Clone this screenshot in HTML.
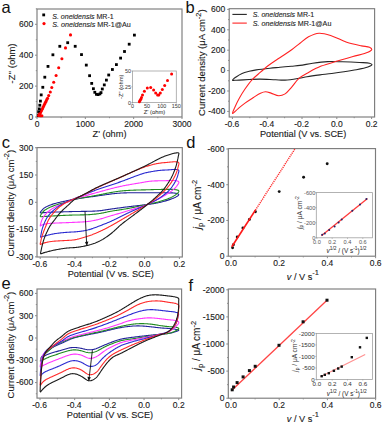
<!DOCTYPE html><html><head><meta charset="utf-8"><style>html,body{margin:0;padding:0;background:#fff;}svg{display:block}</style></head><body><svg width="383" height="424" viewBox="0 0 383 424"><rect width="383" height="424" fill="#fff"/><text x="1.5" y="12.6" font-family="Liberation Sans" font-size="16.5" text-anchor="start" fill="#111" stroke="#111" stroke-width="0" >a</text>
<text x="185.5" y="12.6" font-family="Liberation Sans" font-size="16.5" text-anchor="start" fill="#111" stroke="#111" stroke-width="0" >b</text>
<text x="1.8" y="147.6" font-family="Liberation Sans" font-size="16.5" text-anchor="start" fill="#111" stroke="#111" stroke-width="0" >c</text>
<text x="186.3" y="148.1" font-family="Liberation Sans" font-size="16.5" text-anchor="start" fill="#111" stroke="#111" stroke-width="0" >d</text>
<text x="1.6" y="289.3" font-family="Liberation Sans" font-size="16.5" text-anchor="start" fill="#111" stroke="#111" stroke-width="0" >e</text>
<text x="188.4" y="290.5" font-family="Liberation Sans" font-size="16.5" text-anchor="start" fill="#111" stroke="#111" stroke-width="0" >f</text>
<rect x="37" y="9" width="145" height="108" fill="none" stroke="#7c7c7c" stroke-width="1.15"/>
<line x1="35" y1="117" x2="37" y2="117" stroke="#8a8a8a" stroke-width="1.0"/>
<line x1="35" y1="86.1" x2="37" y2="86.1" stroke="#8a8a8a" stroke-width="1.0"/>
<line x1="35" y1="55.2" x2="37" y2="55.2" stroke="#8a8a8a" stroke-width="1.0"/>
<line x1="35" y1="24.3" x2="37" y2="24.3" stroke="#8a8a8a" stroke-width="1.0"/>
<line x1="35.8" y1="101.55" x2="37" y2="101.55" stroke="#8a8a8a" stroke-width="1.0"/>
<line x1="35.8" y1="70.65" x2="37" y2="70.65" stroke="#8a8a8a" stroke-width="1.0"/>
<line x1="35.8" y1="39.75" x2="37" y2="39.75" stroke="#8a8a8a" stroke-width="1.0"/>
<line x1="35.8" y1="8.85" x2="37" y2="8.85" stroke="#8a8a8a" stroke-width="1.0"/>
<line x1="37" y1="117" x2="37" y2="119" stroke="#8a8a8a" stroke-width="1.0"/>
<line x1="85.33" y1="117" x2="85.33" y2="119" stroke="#8a8a8a" stroke-width="1.0"/>
<line x1="133.66" y1="117" x2="133.66" y2="119" stroke="#8a8a8a" stroke-width="1.0"/>
<line x1="181.99" y1="117" x2="181.99" y2="119" stroke="#8a8a8a" stroke-width="1.0"/>
<line x1="61.16" y1="117" x2="61.16" y2="118.2" stroke="#8a8a8a" stroke-width="1.0"/>
<line x1="109.49" y1="117" x2="109.49" y2="118.2" stroke="#8a8a8a" stroke-width="1.0"/>
<line x1="157.82" y1="117" x2="157.82" y2="118.2" stroke="#8a8a8a" stroke-width="1.0"/>
<text x="33.2" y="119.8" font-family="Liberation Sans" font-size="8.5" text-anchor="end" fill="#1a1a1a" stroke="#1a1a1a" stroke-width="0.12" >0</text>
<text x="33.2" y="88.9" font-family="Liberation Sans" font-size="8.5" text-anchor="end" fill="#1a1a1a" stroke="#1a1a1a" stroke-width="0.12" >200</text>
<text x="33.2" y="58" font-family="Liberation Sans" font-size="8.5" text-anchor="end" fill="#1a1a1a" stroke="#1a1a1a" stroke-width="0.12" >400</text>
<text x="33.2" y="27.1" font-family="Liberation Sans" font-size="8.5" text-anchor="end" fill="#1a1a1a" stroke="#1a1a1a" stroke-width="0.12" >600</text>
<text x="37" y="126.6" font-family="Liberation Sans" font-size="8.5" text-anchor="middle" fill="#1a1a1a" stroke="#1a1a1a" stroke-width="0.12" >0</text>
<text x="85.33" y="126.6" font-family="Liberation Sans" font-size="8.5" text-anchor="middle" fill="#1a1a1a" stroke="#1a1a1a" stroke-width="0.12" >1000</text>
<text x="133.66" y="126.6" font-family="Liberation Sans" font-size="8.5" text-anchor="middle" fill="#1a1a1a" stroke="#1a1a1a" stroke-width="0.12" >2000</text>
<text x="181.99" y="126.6" font-family="Liberation Sans" font-size="8.5" text-anchor="middle" fill="#1a1a1a" stroke="#1a1a1a" stroke-width="0.12" >3000</text>
<text x="109.5" y="137.3" font-family="Liberation Sans" font-size="9.2" text-anchor="middle" fill="#1a1a1a" stroke="#1a1a1a" stroke-width="0.12" >Z' (ohm)</text>
<text transform="translate(14.9,63.5) rotate(-90)" font-family="Liberation Sans" font-size="9.5" text-anchor="middle" fill="#1a1a1a" stroke="#1a1a1a" stroke-width="0.1">-Z'' (ohm)</text>
<rect x="42.3" y="13.5" width="2.8" height="2.8" fill="#000"/>
<circle cx="44" cy="23.6" r="1.6" fill="#f00"/>
<text x="52.2" y="18.8" font-family="Liberation Sans" font-size="7.3" text-anchor="start" fill="#222" stroke="#222" stroke-width="0.1" textLength="61.5" lengthAdjust="spacingAndGlyphs"><tspan font-style="italic">S. oneidensis</tspan> MR-1</text>
<text x="52.2" y="27.2" font-family="Liberation Sans" font-size="7.3" text-anchor="start" fill="#222" stroke="#222" stroke-width="0.1" textLength="78.6" lengthAdjust="spacingAndGlyphs"><tspan font-style="italic">S. oneidensis</tspan> MR-1@Au</text>
<circle cx="70.5" cy="34.9" r="1.55" fill="#f00"/>
<circle cx="65.5" cy="47.9" r="1.55" fill="#f00"/>
<circle cx="61.9" cy="58.7" r="1.55" fill="#f00"/>
<circle cx="58.7" cy="67.8" r="1.55" fill="#f00"/>
<circle cx="56.1" cy="75.5" r="1.55" fill="#f00"/>
<circle cx="53.7" cy="82.2" r="1.55" fill="#f00"/>
<circle cx="51.8" cy="87.5" r="1.55" fill="#f00"/>
<circle cx="50.3" cy="92" r="1.55" fill="#f00"/>
<circle cx="48.7" cy="95.6" r="1.55" fill="#f00"/>
<circle cx="47.52" cy="98.18" r="1.55" fill="#f00"/>
<circle cx="46.85" cy="99.57" r="1.55" fill="#f00"/>
<circle cx="46.17" cy="100.95" r="1.55" fill="#f00"/>
<circle cx="45.49" cy="102.34" r="1.55" fill="#f00"/>
<circle cx="44.82" cy="103.72" r="1.55" fill="#f00"/>
<circle cx="44.14" cy="105.11" r="1.55" fill="#f00"/>
<circle cx="43.46" cy="106.49" r="1.55" fill="#f00"/>
<circle cx="42.78" cy="107.88" r="1.55" fill="#f00"/>
<circle cx="42.11" cy="109.26" r="1.55" fill="#f00"/>
<circle cx="41.43" cy="110.65" r="1.55" fill="#f00"/>
<circle cx="40.75" cy="112.03" r="1.55" fill="#f00"/>
<circle cx="40.08" cy="113.42" r="1.55" fill="#f00"/>
<circle cx="39.4" cy="114.8" r="1.55" fill="#f00"/>
<rect x="36.9" y="114.2" width="2.8" height="2.8" fill="#000"/>
<rect x="37.3" y="110.4" width="2.8" height="2.8" fill="#000"/>
<rect x="37.9" y="107.5" width="2.8" height="2.8" fill="#000"/>
<rect x="38.4" y="103.8" width="2.8" height="2.8" fill="#000"/>
<rect x="39" y="99.7" width="2.8" height="2.8" fill="#000"/>
<rect x="39.8" y="93.5" width="2.8" height="2.8" fill="#000"/>
<rect x="41.4" y="85.9" width="2.8" height="2.8" fill="#000"/>
<rect x="43.4" y="75.8" width="2.8" height="2.8" fill="#000"/>
<rect x="46.6" y="65" width="2.8" height="2.8" fill="#000"/>
<rect x="51.5" y="53.4" width="2.8" height="2.8" fill="#000"/>
<rect x="58.4" y="44.9" width="2.8" height="2.8" fill="#000"/>
<rect x="66.3" y="41.3" width="2.8" height="2.8" fill="#000"/>
<rect x="73.8" y="44.9" width="2.8" height="2.8" fill="#000"/>
<rect x="80.1" y="53.2" width="2.8" height="2.8" fill="#000"/>
<rect x="84.9" y="63.7" width="2.8" height="2.8" fill="#000"/>
<rect x="88.2" y="74.3" width="2.8" height="2.8" fill="#000"/>
<rect x="90.3" y="82" width="2.8" height="2.8" fill="#000"/>
<rect x="92" y="87.3" width="2.8" height="2.8" fill="#000"/>
<rect x="93.4" y="90.9" width="2.8" height="2.8" fill="#000"/>
<rect x="95" y="92.9" width="2.8" height="2.8" fill="#000"/>
<rect x="96.7" y="93.2" width="2.8" height="2.8" fill="#000"/>
<rect x="98.5" y="92.5" width="2.8" height="2.8" fill="#000"/>
<rect x="99.6" y="91.2" width="2.8" height="2.8" fill="#000"/>
<rect x="100.9" y="87.6" width="2.8" height="2.8" fill="#000"/>
<rect x="102.9" y="83.5" width="2.8" height="2.8" fill="#000"/>
<rect x="105" y="78.7" width="2.8" height="2.8" fill="#000"/>
<rect x="107.3" y="73.6" width="2.8" height="2.8" fill="#000"/>
<rect x="111" y="68.1" width="2.8" height="2.8" fill="#000"/>
<rect x="115" y="63.2" width="2.8" height="2.8" fill="#000"/>
<rect x="119.2" y="56.7" width="2.8" height="2.8" fill="#000"/>
<rect x="123.1" y="50.1" width="2.8" height="2.8" fill="#000"/>
<rect x="127.8" y="42.8" width="2.8" height="2.8" fill="#000"/>
<rect x="133" y="33.7" width="2.8" height="2.8" fill="#000"/>
<circle cx="38.6" cy="115.5" r="1.55" fill="#f00"/>
<circle cx="40.3" cy="115.7" r="1.55" fill="#f00"/>
<circle cx="41.9" cy="115.7" r="1.55" fill="#f00"/>
<circle cx="39.6" cy="113.8" r="1.55" fill="#f00"/>
<rect x="132.4" y="71.0" width="43.9" height="31.6" fill="#fff" stroke="#a0a0a0" stroke-width="0.8"/>
<line x1="131.4" y1="102.6" x2="132.4" y2="102.6" stroke="#8a8a8a" stroke-width="0.6"/>
<line x1="131.4" y1="86.8" x2="132.4" y2="86.8" stroke="#8a8a8a" stroke-width="0.6"/>
<line x1="131.4" y1="71" x2="132.4" y2="71" stroke="#8a8a8a" stroke-width="0.6"/>
<line x1="132.4" y1="102.6" x2="132.4" y2="103.6" stroke="#8a8a8a" stroke-width="0.6"/>
<line x1="147.03" y1="102.6" x2="147.03" y2="103.6" stroke="#8a8a8a" stroke-width="0.6"/>
<line x1="161.67" y1="102.6" x2="161.67" y2="103.6" stroke="#8a8a8a" stroke-width="0.6"/>
<line x1="176.3" y1="102.6" x2="176.3" y2="103.6" stroke="#8a8a8a" stroke-width="0.6"/>
<text x="130.9" y="104.5" font-family="Liberation Sans" font-size="5.4" text-anchor="end" fill="#444" stroke="#444" stroke-width="0.05" >0</text>
<text x="130.9" y="88.7" font-family="Liberation Sans" font-size="5.4" text-anchor="end" fill="#444" stroke="#444" stroke-width="0.05" >25</text>
<text x="130.9" y="72.9" font-family="Liberation Sans" font-size="5.4" text-anchor="end" fill="#444" stroke="#444" stroke-width="0.05" >50</text>
<text x="132.4" y="108.3" font-family="Liberation Sans" font-size="5.4" text-anchor="middle" fill="#444" stroke="#444" stroke-width="0.05" >0</text>
<text x="147.03" y="108.3" font-family="Liberation Sans" font-size="5.4" text-anchor="middle" fill="#444" stroke="#444" stroke-width="0.05" >50</text>
<text x="161.67" y="108.3" font-family="Liberation Sans" font-size="5.4" text-anchor="middle" fill="#444" stroke="#444" stroke-width="0.05" >100</text>
<text x="176.3" y="108.3" font-family="Liberation Sans" font-size="5.4" text-anchor="middle" fill="#444" stroke="#444" stroke-width="0.05" >150</text>
<text x="154.5" y="114.4" font-family="Liberation Sans" font-size="5.8" text-anchor="middle" fill="#333" stroke="#333" stroke-width="0.05" >Z' (ohm)</text>
<text transform="translate(123,86.8) rotate(-90)" font-family="Liberation Sans" font-size="5.8" text-anchor="middle" fill="#333" stroke="#333" stroke-width="0.05">-Z'' (ohm)</text>
<circle cx="139.4" cy="101.8" r="1.5" fill="#f00"/>
<circle cx="140" cy="100.4" r="1.5" fill="#f00"/>
<circle cx="140.7" cy="99.3" r="1.5" fill="#f00"/>
<circle cx="141.5" cy="97.4" r="1.5" fill="#f00"/>
<circle cx="142.5" cy="94.9" r="1.5" fill="#f00"/>
<circle cx="144.4" cy="91.2" r="1.5" fill="#f00"/>
<circle cx="147.3" cy="88" r="1.5" fill="#f00"/>
<circle cx="150.7" cy="87.4" r="1.5" fill="#f00"/>
<circle cx="153.6" cy="89.9" r="1.5" fill="#f00"/>
<circle cx="155.7" cy="93.1" r="1.5" fill="#f00"/>
<circle cx="157.6" cy="94.9" r="1.5" fill="#f00"/>
<circle cx="158.8" cy="94.9" r="1.5" fill="#f00"/>
<circle cx="160.3" cy="93.1" r="1.5" fill="#f00"/>
<circle cx="162.3" cy="89.6" r="1.5" fill="#f00"/>
<circle cx="164.7" cy="85.5" r="1.5" fill="#f00"/>
<circle cx="167.5" cy="80.6" r="1.5" fill="#f00"/>
<circle cx="171.6" cy="73.9" r="1.5" fill="#f00"/>
<rect x="229.2" y="8.7" width="145.4" height="108.3" fill="none" stroke="#7c7c7c" stroke-width="1.15"/>
<line x1="227.2" y1="9.4" x2="229.2" y2="9.4" stroke="#8a8a8a" stroke-width="1.0"/>
<line x1="227.2" y1="29.8" x2="229.2" y2="29.8" stroke="#8a8a8a" stroke-width="1.0"/>
<line x1="227.2" y1="50.2" x2="229.2" y2="50.2" stroke="#8a8a8a" stroke-width="1.0"/>
<line x1="227.2" y1="70.6" x2="229.2" y2="70.6" stroke="#8a8a8a" stroke-width="1.0"/>
<line x1="227.2" y1="91" x2="229.2" y2="91" stroke="#8a8a8a" stroke-width="1.0"/>
<line x1="227.2" y1="111.4" x2="229.2" y2="111.4" stroke="#8a8a8a" stroke-width="1.0"/>
<line x1="228" y1="19.6" x2="229.2" y2="19.6" stroke="#8a8a8a" stroke-width="1.0"/>
<line x1="228" y1="40" x2="229.2" y2="40" stroke="#8a8a8a" stroke-width="1.0"/>
<line x1="228" y1="60.4" x2="229.2" y2="60.4" stroke="#8a8a8a" stroke-width="1.0"/>
<line x1="228" y1="80.8" x2="229.2" y2="80.8" stroke="#8a8a8a" stroke-width="1.0"/>
<line x1="228" y1="101.2" x2="229.2" y2="101.2" stroke="#8a8a8a" stroke-width="1.0"/>
<line x1="232.4" y1="117" x2="232.4" y2="119" stroke="#8a8a8a" stroke-width="1.0"/>
<line x1="267.2" y1="117" x2="267.2" y2="119" stroke="#8a8a8a" stroke-width="1.0"/>
<line x1="302" y1="117" x2="302" y2="119" stroke="#8a8a8a" stroke-width="1.0"/>
<line x1="336.8" y1="117" x2="336.8" y2="119" stroke="#8a8a8a" stroke-width="1.0"/>
<line x1="371.6" y1="117" x2="371.6" y2="119" stroke="#8a8a8a" stroke-width="1.0"/>
<line x1="249.8" y1="117" x2="249.8" y2="118.2" stroke="#8a8a8a" stroke-width="1.0"/>
<line x1="284.6" y1="117" x2="284.6" y2="118.2" stroke="#8a8a8a" stroke-width="1.0"/>
<line x1="319.4" y1="117" x2="319.4" y2="118.2" stroke="#8a8a8a" stroke-width="1.0"/>
<line x1="354.2" y1="117" x2="354.2" y2="118.2" stroke="#8a8a8a" stroke-width="1.0"/>
<text x="225.3" y="12.2" font-family="Liberation Sans" font-size="8.5" text-anchor="end" fill="#1a1a1a" stroke="#1a1a1a" stroke-width="0.12" >600</text>
<text x="225.3" y="32.6" font-family="Liberation Sans" font-size="8.5" text-anchor="end" fill="#1a1a1a" stroke="#1a1a1a" stroke-width="0.12" >400</text>
<text x="225.3" y="53" font-family="Liberation Sans" font-size="8.5" text-anchor="end" fill="#1a1a1a" stroke="#1a1a1a" stroke-width="0.12" >200</text>
<text x="225.3" y="73.4" font-family="Liberation Sans" font-size="8.5" text-anchor="end" fill="#1a1a1a" stroke="#1a1a1a" stroke-width="0.12" >0</text>
<text x="225.3" y="93.8" font-family="Liberation Sans" font-size="8.5" text-anchor="end" fill="#1a1a1a" stroke="#1a1a1a" stroke-width="0.12" >-200</text>
<text x="225.3" y="114.2" font-family="Liberation Sans" font-size="8.5" text-anchor="end" fill="#1a1a1a" stroke="#1a1a1a" stroke-width="0.12" >-400</text>
<text x="232" y="126.6" font-family="Liberation Sans" font-size="8.5" text-anchor="middle" fill="#1a1a1a" stroke="#1a1a1a" stroke-width="0.12" >-0.6</text>
<text x="266.8" y="126.6" font-family="Liberation Sans" font-size="8.5" text-anchor="middle" fill="#1a1a1a" stroke="#1a1a1a" stroke-width="0.12" >-0.4</text>
<text x="301.6" y="126.6" font-family="Liberation Sans" font-size="8.5" text-anchor="middle" fill="#1a1a1a" stroke="#1a1a1a" stroke-width="0.12" >-0.2</text>
<text x="336.8" y="126.6" font-family="Liberation Sans" font-size="8.5" text-anchor="middle" fill="#1a1a1a" stroke="#1a1a1a" stroke-width="0.12" >0.0</text>
<text x="371.6" y="126.6" font-family="Liberation Sans" font-size="8.5" text-anchor="middle" fill="#1a1a1a" stroke="#1a1a1a" stroke-width="0.12" >0.2</text>
<text x="303.1" y="136.9" font-family="Liberation Sans" font-size="9.2" text-anchor="middle" fill="#1a1a1a" stroke="#1a1a1a" stroke-width="0.12" >Potential (V vs. SCE)</text>
<text transform="translate(205.3,62.7) rotate(-90)" font-family="Liberation Sans" font-size="9.5" text-anchor="middle" fill="#1a1a1a" stroke="#1a1a1a" stroke-width="0.1">Current density (μA cm<tspan dy="-4.4" font-size="7.4">-2</tspan><tspan dy="4.4">)</tspan></text>
<line x1="232.4" y1="14.4" x2="246.8" y2="14.4" stroke="#222" stroke-width="1.1"/>
<line x1="232.4" y1="23.1" x2="246.8" y2="23.1" stroke="#f22" stroke-width="1.1"/>
<text x="252.8" y="17.4" font-family="Liberation Sans" font-size="7.3" text-anchor="start" fill="#222" stroke="#222" stroke-width="0.1" textLength="61.5" lengthAdjust="spacingAndGlyphs"><tspan font-style="italic">S. oneidensis</tspan> MR-1</text>
<text x="252.8" y="26.1" font-family="Liberation Sans" font-size="7.3" text-anchor="start" fill="#222" stroke="#222" stroke-width="0.1" textLength="78.6" lengthAdjust="spacingAndGlyphs"><tspan font-style="italic">S. oneidensis</tspan> MR-1@Au</text>
<path d="M232.5,80.2C232.3,79.66 235,77.79 236.5,76.7C238.16,75.5 240.06,74.29 242.1,73.4C244.27,72.46 246.82,71.89 249.2,71.3C251.55,70.72 253.54,70.34 256.3,69.9C260.11,69.29 265.79,68.65 270,68.2C273.59,67.82 276.57,67.62 280,67.3C283.65,66.96 287.78,66.53 291.3,66.2C294.39,65.91 296.84,65.82 300,65.4C303.84,64.89 308.29,63.82 312.7,63.2C317.46,62.53 322.63,61.83 327.6,61.6C332.53,61.37 337.3,61.66 342.4,61.8C347.87,61.95 354.47,62.23 359.4,62.5C363.2,62.71 367.31,62.55 369.5,63.2C370.67,63.55 371.99,64.06 372,64.6C372.01,65.3 369.78,66.35 367.9,67.1C364.56,68.43 358.42,69.31 353,70.3C346.57,71.47 337.84,72.69 331.8,73.5C327.3,74.11 324.03,74.38 320,74.9C315.77,75.44 310.78,76.08 307,76.7C304.06,77.19 302.19,77.71 299.2,78.2C295.2,78.85 289.33,79.88 285.1,80.1C281.66,80.28 279.23,79.94 275.7,79.8C271.13,79.63 264.75,79.12 260,79.1C256.06,79.09 252.94,79.33 249.2,79.5C245.14,79.69 239.54,80.12 236.5,80.2C234.79,80.25 232.68,80.67 232.5,80.2Z" fill="none" stroke="#262626" stroke-width="1.1"/>
<path d="M232.5,113.5C232.02,113.16 234.07,109.07 235.1,106.7C236.28,104 237.72,101.05 239.3,98.2C240.99,95.15 242.92,92.02 245,89C247.15,85.88 249.41,82.61 252,79.8C254.58,77.01 257.74,74.61 260.5,72.2C263.06,69.96 265.41,67.8 268,65.8C270.58,63.81 273.32,62.01 276,60.2C278.65,58.41 281.34,56.78 284,55C286.68,53.21 289.36,51.44 292,49.5C294.7,47.51 297.28,45.29 300,43.2C302.78,41.06 305.36,38.46 308.5,36.8C311.72,35.1 315.38,33.42 319.1,33.2C323.11,32.96 327.47,34.52 331.8,35.9C336.64,37.44 341.67,40.62 346.7,42.3C351.57,43.93 357.31,45.02 361.5,45.9C364.56,46.54 367.72,46.42 369.5,47.3C370.61,47.84 371.84,48.67 371.8,49.4C371.75,50.32 369.73,51.4 367.9,52.3C364.63,53.91 357.96,55.08 353,56.5C348.06,57.92 343.3,59.27 338.2,60.8C332.72,62.45 326.38,64.02 321.2,66.1C316.58,67.95 312.36,70.25 308.5,72.4C305.11,74.29 302,75.77 299.2,78.2C296.23,80.77 293.83,84.82 291.3,87.6C289.16,89.96 287.36,92.53 285.1,93.9C283.15,95.08 281,95.84 278.8,95.8C276.33,95.75 273.39,93.79 271,93.1C269.02,92.53 267.29,91.76 265.5,91.8C263.79,91.83 262.25,92.44 260.5,93.2C258.3,94.16 255.93,95.95 253.5,97.5C250.79,99.22 247.66,101.16 245,103.1C242.48,104.93 240.09,106.97 237.9,108.8C235.96,110.42 232.98,113.83 232.5,113.5Z" fill="none" stroke="#f22" stroke-width="1.1"/>
<rect x="37" y="147.6" width="145.3" height="109.4" fill="none" stroke="#7c7c7c" stroke-width="1.15"/>
<line x1="35" y1="147.76" x2="37" y2="147.76" stroke="#8a8a8a" stroke-width="1.0"/>
<line x1="35" y1="175.03" x2="37" y2="175.03" stroke="#8a8a8a" stroke-width="1.0"/>
<line x1="35" y1="202.3" x2="37" y2="202.3" stroke="#8a8a8a" stroke-width="1.0"/>
<line x1="35" y1="229.57" x2="37" y2="229.57" stroke="#8a8a8a" stroke-width="1.0"/>
<line x1="35" y1="256.84" x2="37" y2="256.84" stroke="#8a8a8a" stroke-width="1.0"/>
<line x1="35.8" y1="161.4" x2="37" y2="161.4" stroke="#8a8a8a" stroke-width="1.0"/>
<line x1="35.8" y1="188.67" x2="37" y2="188.67" stroke="#8a8a8a" stroke-width="1.0"/>
<line x1="35.8" y1="215.94" x2="37" y2="215.94" stroke="#8a8a8a" stroke-width="1.0"/>
<line x1="35.8" y1="243.21" x2="37" y2="243.21" stroke="#8a8a8a" stroke-width="1.0"/>
<line x1="40.2" y1="257" x2="40.2" y2="259" stroke="#8a8a8a" stroke-width="1.0"/>
<line x1="75" y1="257" x2="75" y2="259" stroke="#8a8a8a" stroke-width="1.0"/>
<line x1="109.8" y1="257" x2="109.8" y2="259" stroke="#8a8a8a" stroke-width="1.0"/>
<line x1="144.6" y1="257" x2="144.6" y2="259" stroke="#8a8a8a" stroke-width="1.0"/>
<line x1="179.4" y1="257" x2="179.4" y2="259" stroke="#8a8a8a" stroke-width="1.0"/>
<line x1="57.6" y1="257" x2="57.6" y2="258.2" stroke="#8a8a8a" stroke-width="1.0"/>
<line x1="92.4" y1="257" x2="92.4" y2="258.2" stroke="#8a8a8a" stroke-width="1.0"/>
<line x1="127.2" y1="257" x2="127.2" y2="258.2" stroke="#8a8a8a" stroke-width="1.0"/>
<line x1="162" y1="257" x2="162" y2="258.2" stroke="#8a8a8a" stroke-width="1.0"/>
<text x="33.2" y="150.66" font-family="Liberation Sans" font-size="8.5" text-anchor="end" fill="#1a1a1a" stroke="#1a1a1a" stroke-width="0.12" >300</text>
<text x="33.2" y="177.93" font-family="Liberation Sans" font-size="8.5" text-anchor="end" fill="#1a1a1a" stroke="#1a1a1a" stroke-width="0.12" >150</text>
<text x="33.2" y="205.2" font-family="Liberation Sans" font-size="8.5" text-anchor="end" fill="#1a1a1a" stroke="#1a1a1a" stroke-width="0.12" >0</text>
<text x="33.2" y="232.47" font-family="Liberation Sans" font-size="8.5" text-anchor="end" fill="#1a1a1a" stroke="#1a1a1a" stroke-width="0.12" >-150</text>
<text x="33.2" y="259.74" font-family="Liberation Sans" font-size="8.5" text-anchor="end" fill="#1a1a1a" stroke="#1a1a1a" stroke-width="0.12" >-300</text>
<text x="39.8" y="266.6" font-family="Liberation Sans" font-size="8.5" text-anchor="middle" fill="#1a1a1a" stroke="#1a1a1a" stroke-width="0.12" >-0.6</text>
<text x="74.6" y="266.6" font-family="Liberation Sans" font-size="8.5" text-anchor="middle" fill="#1a1a1a" stroke="#1a1a1a" stroke-width="0.12" >-0.4</text>
<text x="109.4" y="266.6" font-family="Liberation Sans" font-size="8.5" text-anchor="middle" fill="#1a1a1a" stroke="#1a1a1a" stroke-width="0.12" >-0.2</text>
<text x="144.6" y="266.6" font-family="Liberation Sans" font-size="8.5" text-anchor="middle" fill="#1a1a1a" stroke="#1a1a1a" stroke-width="0.12" >0.0</text>
<text x="179.4" y="266.6" font-family="Liberation Sans" font-size="8.5" text-anchor="middle" fill="#1a1a1a" stroke="#1a1a1a" stroke-width="0.12" >0.2</text>
<text x="110.8" y="276.9" font-family="Liberation Sans" font-size="9.2" text-anchor="middle" fill="#1a1a1a" stroke="#1a1a1a" stroke-width="0.12" >Potential (V vs. SCE)</text>
<text transform="translate(13.6,203.2) rotate(-90)" font-family="Liberation Sans" font-size="9.5" text-anchor="middle" fill="#1a1a1a" stroke="#1a1a1a" stroke-width="0.1">Current density (μA cm<tspan dy="-4.4" font-size="7.4">-2</tspan><tspan dy="4.4">)</tspan></text>
<path d="M40.3,212.8 40.33,212.37 40.63,211.81 41.2,211.03 42.03,210.16 42.66,209.41 43.24,208.82 43.83,208.32 44.47,207.86 45.16,207.42 45.89,207.01 46.65,206.62 47.43,206.24 48.15,205.92 48.9,205.59 49.66,205.28 50.45,204.98 51.25,204.68 52.08,204.38 52.92,204.11 53.76,203.84 54.5,203.62 55.25,203.41 56.02,203.2 56.8,203 57.59,202.8 58.38,202.61 59.17,202.43 59.95,202.25 60.72,202.08 61.48,201.91 62.32,201.72 63.17,201.53 64.01,201.35 64.84,201.17 65.66,200.99 66.46,200.82 67.26,200.66 68.05,200.49 68.82,200.33 69.55,200.18 70.26,200.03 71,199.89 71.8,199.73 72.68,199.56 73.64,199.39 74.42,199.25 74.98,199.15 75.56,199.06 76.15,198.96 76.77,198.86 77.42,198.76 78.12,198.65 78.86,198.54 79.63,198.42 80.43,198.3 81.26,198.18 82.11,198.06 82.97,197.94 83.83,197.81 84.71,197.69 85.6,197.56 86.48,197.44 87.38,197.31 88.28,197.19 89.17,197.07 90.08,196.94 90.98,196.82 91.87,196.7 92.76,196.58 93.64,196.46 94.49,196.34 95.28,196.23 96.03,196.12 96.77,196.02 97.51,195.91 98.27,195.81 99.03,195.7 99.79,195.58 100.56,195.47 101.34,195.36 102.12,195.24 102.91,195.13 103.7,195.01 104.49,194.9 105.29,194.78 106.08,194.67 106.88,194.56 107.68,194.45 108.49,194.34 109.3,194.23 110.11,194.12 110.92,194.02 111.73,193.92 112.55,193.82 113.37,193.73 114.19,193.64 115.01,193.55 115.85,193.47 116.68,193.39 117.53,193.31 118.37,193.24 119.21,193.18 120.04,193.12 120.8,193.07 121.56,193.02 122.33,192.98 123.11,192.94 123.9,192.91 124.71,192.88 125.53,192.85 126.35,192.83 127.19,192.8 128.03,192.79 128.87,192.77 129.71,192.76 130.56,192.75 131.41,192.74 132.26,192.73 133.11,192.73 133.95,192.73 134.8,192.73 135.65,192.73 136.49,192.73 137.33,192.73 138.17,192.74 139.01,192.74 139.83,192.75 140.66,192.75 141.47,192.76 142.28,192.77 143.08,192.77 143.87,192.78 144.64,192.78 145.39,192.79 146.12,192.79 146.82,192.79 147.5,192.8 148.17,192.8 148.82,192.8 149.48,192.8 150.28,192.79 151.24,192.79 152.21,192.78 153.17,192.78 154.1,192.77 154.99,192.76 155.86,192.76 156.7,192.75 157.51,192.75 158.31,192.75 159.1,192.74 159.88,192.74 160.65,192.74 161.4,192.75 162.14,192.75 162.86,192.76 163.56,192.76 164.27,192.77 164.98,192.78 165.71,192.79 166.6,192.8 167.57,192.82 168.58,192.83 169.61,192.84 170.66,192.86 171.67,192.88 172.64,192.92 173.52,192.97 174.3,193.05 174.97,193.15 175.54,193.26 176.06,193.37 176.58,193.42 177.03,193.5 178.34,194.01 178.8,194.6 178.47,195.37 177.55,196.1 176.81,196.48 176.05,196.87 175.57,197.16 174.97,197.48 174.26,197.8 173.46,198.14 172.59,198.49 171.69,198.82 170.91,199.11 170.22,199.36 169.51,199.61 168.77,199.86 168.01,200.11 167.23,200.36 166.42,200.62 165.6,200.87 164.78,201.11 163.98,201.34 163.18,201.56 162.39,201.77 161.58,201.97 160.75,202.17 159.92,202.36 159.09,202.55 158.26,202.72 157.44,202.89 156.62,203.05 155.83,203.2 155.04,203.35 154.28,203.48 153.44,203.63 152.66,203.76 151.89,203.88 151.12,204 150.31,204.12 149.43,204.24 148.47,204.37 147.46,204.51 146.87,204.59 146.27,204.66 145.65,204.74 145.01,204.82 144.33,204.9 143.62,204.99 142.86,205.08 142.07,205.17 141.24,205.27 140.39,205.36 139.52,205.46 138.65,205.56 137.77,205.66 136.89,205.76 136,205.86 135.1,205.97 134.22,206.07 133.34,206.17 132.47,206.27 131.62,206.37 130.78,206.47 129.96,206.57 129.17,206.66 128.39,206.76 127.6,206.85 126.77,206.96 125.93,207.06 125.08,207.17 124.23,207.28 123.38,207.39 122.53,207.5 121.69,207.61 120.84,207.72 120,207.83 119.17,207.94 118.33,208.05 117.51,208.16 116.69,208.27 115.89,208.37 115.1,208.48 114.33,208.59 113.58,208.69 112.84,208.79 112.11,208.89 111.4,209 110.68,209.1 109.78,209.24 108.9,209.37 108.02,209.51 107.16,209.64 106.34,209.78 105.53,209.91 104.75,210.03 103.98,210.15 103.22,210.27 102.45,210.38 101.68,210.48 100.9,210.58 100.12,210.67 99.31,210.76 98.5,210.83 97.7,210.9 96.9,210.96 96.1,211.01 95.31,211.05 94.51,211.09 93.72,211.13 92.92,211.16 92.12,211.18 91.31,211.21 90.49,211.23 89.67,211.25 88.85,211.28 88.02,211.3 87.23,211.31 86.42,211.33 85.6,211.35 84.75,211.36 83.89,211.38 83.02,211.39 82.13,211.4 81.26,211.42 80.4,211.43 79.54,211.44 78.72,211.45 77.92,211.46 77.16,211.47 76.42,211.48 75.7,211.49 75.01,211.51 74.1,211.53 73.26,211.55 72.48,211.57 71.72,211.59 70.96,211.61 70.18,211.63 69.36,211.66 68.47,211.68 67.67,211.71 66.97,211.73 66.24,211.75 65.48,211.77 64.68,211.79 63.84,211.81 62.96,211.84 62.07,211.86 61.14,211.89 60.22,211.91 59.3,211.94 58.41,211.96 57.55,211.99 56.72,212.01 55.94,212.03 55.18,212.05 54.46,212.08 53.76,212.1 52.81,212.12 51.85,212.15 50.92,212.18 50.03,212.21 49.19,212.24 48.41,212.28 47.66,212.32 46.93,212.38 46.21,212.43 45.35,212.51 44.34,212.58 43.4,212.64 42.46,212.78 41.78,212.9 40.95,212.98Z" fill="none" stroke="#22229a" stroke-width="1.1" stroke-linejoin="round"/>
<path d="M40.3,216.4 40.29,215.96 40.5,215.41 40.91,214.68 41.55,213.79 42.12,212.93 42.69,212.16 43.22,211.55 43.77,211.02 44.35,210.52 44.98,210.05 45.65,209.6 46.36,209.17 47.08,208.75 47.79,208.38 48.47,208.03 49.17,207.69 49.88,207.37 50.62,207.05 51.37,206.74 52.14,206.43 52.92,206.13 53.7,205.84 54.45,205.57 55.21,205.31 55.99,205.05 56.78,204.79 57.59,204.54 58.39,204.3 59.18,204.07 59.97,203.85 60.74,203.64 61.5,203.45 62.34,203.24 63.18,203.03 64.02,202.84 64.84,202.64 65.66,202.44 66.46,202.23 67.24,202 68.02,201.76 68.74,201.52 69.43,201.27 70.1,201.02 70.79,200.76 71.53,200.47 72.33,200.18 73.21,199.87 74.16,199.56 74.7,199.39 75.27,199.23 75.84,199.08 76.45,198.94 77.08,198.79 77.76,198.64 78.48,198.5 79.23,198.35 80.02,198.2 80.83,198.05 81.67,197.9 82.53,197.75 83.39,197.6 84.27,197.46 85.15,197.31 86.03,197.16 86.93,197.02 87.82,196.87 88.72,196.73 89.62,196.58 90.52,196.43 91.43,196.28 92.32,196.12 93.21,195.97 94.08,195.82 94.92,195.66 95.65,195.53 96.38,195.39 97.11,195.25 97.84,195.11 98.59,194.96 99.34,194.81 100.09,194.66 100.85,194.51 101.62,194.35 102.4,194.19 103.17,194.03 103.94,193.87 104.72,193.71 105.51,193.56 106.29,193.4 107.08,193.24 107.87,193.08 108.66,192.93 109.45,192.78 110.26,192.63 111.06,192.48 111.86,192.34 112.66,192.19 113.47,192.06 114.27,191.92 115.09,191.79 115.91,191.67 116.73,191.55 117.56,191.43 118.39,191.32 119.21,191.22 120.03,191.12 120.79,191.04 121.55,190.96 122.32,190.88 123.1,190.81 123.9,190.74 124.7,190.67 125.52,190.61 126.35,190.55 127.18,190.5 128.02,190.44 128.86,190.4 129.7,190.35 130.55,190.31 131.4,190.26 132.25,190.23 133.1,190.19 133.95,190.16 134.8,190.12 135.64,190.09 136.49,190.07 137.33,190.04 138.17,190.01 139,189.99 139.83,189.97 140.65,189.95 141.47,189.92 142.28,189.9 143.08,189.88 143.87,189.86 144.64,189.84 145.39,189.83 146.12,189.81 146.82,189.79 147.5,189.77 148.17,189.75 148.82,189.73 149.48,189.71 150.28,189.69 151.24,189.66 152.21,189.63 153.17,189.6 154.1,189.57 154.99,189.55 155.86,189.53 156.7,189.51 157.51,189.49 158.31,189.47 159.1,189.45 159.88,189.44 160.65,189.43 161.4,189.42 162.14,189.41 162.86,189.41 163.56,189.4 164.27,189.4 164.98,189.4 165.71,189.39 166.6,189.39 167.57,189.39 168.57,189.38 169.6,189.37 170.65,189.37 171.65,189.38 172.61,189.4 173.49,189.44 174.28,189.5 174.95,189.58 175.53,189.69 176.05,189.81 176.57,189.85 177.02,189.91 178.38,190.39 178.9,191 178.75,191.73 178.14,192.56 177.41,193.23 176.74,193.78 176.09,194.41 175.61,194.8 175.04,195.21 174.4,195.62 173.68,196.06 172.89,196.5 172.07,196.93 171.24,197.34 170.57,197.66 169.87,197.97 169.14,198.28 168.38,198.59 167.59,198.9 166.78,199.2 165.96,199.5 165.13,199.79 164.32,200.07 163.53,200.33 162.77,200.58 161.96,200.84 161.17,201.08 160.38,201.32 159.6,201.55 158.81,201.77 158.03,201.98 157.24,202.19 156.45,202.39 155.66,202.58 154.87,202.77 154.12,202.95 153.38,203.11 152.65,203.27 151.91,203.42 151.14,203.58 150.3,203.76 149.4,203.94 148.45,204.14 147.47,204.34 146.87,204.47 146.26,204.6 145.63,204.73 144.99,204.87 144.31,205.02 143.6,205.17 142.86,205.34 142.08,205.51 141.28,205.69 140.46,205.87 139.62,206.06 138.77,206.24 137.92,206.43 137.06,206.62 136.2,206.81 135.34,206.99 134.48,207.18 133.62,207.36 132.78,207.54 131.94,207.71 131.12,207.88 130.31,208.04 129.53,208.19 128.76,208.34 128,208.48 127.2,208.63 126.38,208.78 125.56,208.92 124.74,209.06 123.91,209.2 123.08,209.33 122.25,209.46 121.42,209.59 120.59,209.72 119.78,209.85 118.96,209.97 118.15,210.09 117.35,210.22 116.55,210.34 115.77,210.46 115,210.58 114.25,210.7 113.53,210.82 112.81,210.93 112.11,211.06 111.41,211.18 110.7,211.31 109.81,211.48 108.92,211.65 108.04,211.83 107.17,212.01 106.35,212.19 105.54,212.36 104.76,212.52 103.99,212.69 103.22,212.85 102.45,213 101.68,213.15 100.9,213.29 100.1,213.43 99.3,213.56 98.49,213.68 97.69,213.79 96.89,213.9 96.1,214 95.3,214.09 94.51,214.17 93.72,214.25 92.92,214.32 92.12,214.39 91.31,214.46 90.49,214.52 89.67,214.58 88.85,214.63 88.02,214.68 87.23,214.72 86.42,214.76 85.6,214.79 84.75,214.82 83.89,214.85 83.02,214.87 82.14,214.89 81.26,214.9 80.39,214.92 79.54,214.93 78.71,214.94 77.92,214.95 77.14,214.97 76.4,214.98 75.68,214.99 75,215.01 74.1,215.03 73.3,215.04 72.55,215.06 71.81,215.08 71.06,215.1 70.27,215.13 69.41,215.16 68.46,215.19 67.66,215.22 67.06,215.25 66.43,215.27 65.75,215.3 65.03,215.34 64.26,215.37 63.44,215.41 62.56,215.45 61.64,215.5 60.7,215.55 59.74,215.6 58.77,215.65 57.8,215.7 56.82,215.75 55.85,215.8 54.88,215.85 53.92,215.91 52.96,215.96 52.03,216.01 51.15,216.06 50.3,216.12 49.52,216.16 48.8,216.21 48.15,216.25 47.55,216.3 46.98,216.34 46.45,216.38 45.95,216.41 44.82,216.47 43.81,216.49 42.83,216.57 42.08,216.66 41.53,216.72 40.56,216.64Z" fill="none" stroke="#1f8a1f" stroke-width="1.1" stroke-linejoin="round"/>
<path d="M40.3,226 40.23,225.73 40.29,225.26 40.45,224.55 40.74,223.55 41.08,222.41 41.41,221.27 41.78,220.22 42.12,219.41 42.49,218.63 42.86,217.95 43.24,217.3 43.67,216.66 44.13,216 44.62,215.37 45.1,214.79 45.63,214.19 46.2,213.58 46.81,212.97 47.44,212.37 48.1,211.78 48.76,211.23 49.4,210.72 50.03,210.24 50.68,209.77 51.35,209.32 52.04,208.87 52.74,208.44 53.45,208.02 54.17,207.62 54.88,207.23 55.6,206.86 56.33,206.49 57.06,206.14 57.79,205.8 58.53,205.47 59.27,205.15 60.01,204.84 60.76,204.53 61.51,204.24 62.27,203.95 63.04,203.66 63.81,203.38 64.59,203.1 65.36,202.82 66.14,202.54 66.89,202.26 67.64,201.97 68.38,201.68 69.08,201.39 69.76,201.11 70.44,200.82 71.15,200.52 71.92,200.19 72.77,199.85 73.69,199.48 74.43,199.2 74.96,199 75.51,198.81 76.07,198.61 76.66,198.41 77.28,198.21 77.95,197.99 78.65,197.77 79.38,197.54 80.14,197.31 80.93,197.07 81.74,196.83 82.57,196.58 83.39,196.34 84.24,196.09 85.08,195.85 85.93,195.6 86.79,195.36 87.65,195.11 88.51,194.87 89.38,194.62 90.25,194.38 91.11,194.13 91.98,193.89 92.83,193.65 93.68,193.41 94.49,193.19 95.26,192.97 95.98,192.77 96.7,192.57 97.43,192.37 98.16,192.16 98.91,191.95 99.67,191.74 100.43,191.53 101.21,191.31 101.99,191.1 102.77,190.88 103.55,190.66 104.34,190.45 105.13,190.23 105.92,190.02 106.71,189.81 107.5,189.6 108.29,189.38 109.08,189.18 109.87,188.97 110.66,188.76 111.46,188.56 112.25,188.36 113.04,188.16 113.83,187.96 114.61,187.77 115.39,187.58 116.16,187.39 116.93,187.21 117.69,187.04 118.44,186.86 119.18,186.7 119.93,186.53 120.73,186.36 121.56,186.18 122.41,186.01 123.27,185.83 124.13,185.66 125.01,185.49 125.88,185.33 126.77,185.16 127.65,185 128.52,184.84 129.4,184.68 130.28,184.53 131.15,184.38 132.02,184.23 132.88,184.08 133.73,183.94 134.58,183.8 135.41,183.66 136.23,183.53 137.02,183.4 137.8,183.27 138.54,183.15 139.24,183.03 139.9,182.92 140.53,182.81 141.14,182.71 141.72,182.61 142.29,182.51 142.85,182.41 143.86,182.23 144.78,182.06 145.61,181.91 146.38,181.78 147.13,181.65 147.88,181.54 148.68,181.42 149.56,181.31 150.35,181.22 151.01,181.16 151.7,181.1 152.43,181.05 153.18,181 153.97,180.96 154.8,180.92 155.66,180.89 156.54,180.86 157.44,180.84 158.35,180.82 159.25,180.8 160.16,180.78 161.04,180.77 161.9,180.75 162.74,180.74 163.54,180.73 164.31,180.71 165.06,180.7 165.79,180.68 166.67,180.65 167.61,180.62 168.6,180.58 169.62,180.53 170.66,180.49 171.66,180.45 172.63,180.43 173.52,180.44 174.32,180.48 175,180.55 175.59,180.65 176.08,180.79 176.58,180.83 177.03,180.9 178.1,181.28 178.76,181.83 178.92,182.55 178.65,183.27 178.13,184.17 177.54,184.95 177.1,185.62 176.66,186.26 176.15,186.91 175.63,187.49 175.12,188 174.56,188.53 173.95,189.07 173.3,189.63 172.61,190.18 171.97,190.68 171.37,191.12 170.76,191.57 170.11,192.03 169.44,192.49 168.74,192.96 168.02,193.43 167.29,193.9 166.56,194.36 165.85,194.8 165.18,195.21 164.52,195.61 163.87,196 163.2,196.39 162.52,196.78 161.82,197.17 161.1,197.57 160.36,197.98 159.6,198.4 158.82,198.82 158.11,199.2 157.46,199.54 156.82,199.88 156.19,200.21 155.53,200.55 154.86,200.89 154.18,201.24 153.48,201.59 152.76,201.94 152.01,202.3 151.24,202.67 150.43,203.04 149.59,203.41 148.75,203.78 147.91,204.13 147.17,204.44 146.52,204.7 145.87,204.95 145.2,205.2 144.51,205.46 143.81,205.71 143.07,205.97 142.32,206.24 141.54,206.5 140.75,206.77 139.95,207.04 139.15,207.3 138.34,207.57 137.52,207.83 136.71,208.09 135.89,208.35 135.07,208.6 134.26,208.86 133.44,209.11 132.64,209.36 131.84,209.61 131.05,209.85 130.28,210.09 129.51,210.33 128.76,210.56 128.02,210.79 127.23,211.03 126.43,211.28 125.62,211.52 124.81,211.77 124,212.01 123.19,212.25 122.38,212.49 121.57,212.72 120.77,212.96 119.96,213.19 119.16,213.42 118.37,213.65 117.58,213.88 116.8,214.1 116.03,214.33 115.27,214.54 114.53,214.76 113.81,214.97 113.1,215.17 112.41,215.38 111.72,215.58 111.03,215.78 110.26,216.02 109.39,216.28 108.54,216.54 107.7,216.8 106.88,217.06 106.09,217.3 105.32,217.54 104.57,217.77 103.83,218 103.1,218.22 102.36,218.44 101.62,218.65 100.87,218.86 100.11,219.06 99.33,219.26 98.52,219.46 97.72,219.66 96.91,219.85 96.11,220.03 95.31,220.2 94.51,220.37 93.72,220.53 92.92,220.68 92.11,220.83 91.3,220.97 90.49,221.11 89.66,221.23 88.84,221.35 88.01,221.46 87.22,221.55 86.42,221.64 85.59,221.72 84.75,221.79 83.89,221.85 83.02,221.91 82.14,221.97 81.27,222.01 80.39,222.06 79.54,222.1 78.72,222.14 77.92,222.17 77.15,222.21 76.4,222.24 75.68,222.27 74.99,222.3 74.1,222.34 73.3,222.37 72.55,222.41 71.81,222.44 71.06,222.47 70.27,222.5 69.41,222.54 68.46,222.58 67.66,222.61 67.06,222.64 66.43,222.66 65.75,222.69 65.03,222.72 64.26,222.74 63.43,222.77 62.55,222.8 61.64,222.84 60.69,222.87 59.73,222.9 58.76,222.94 57.79,222.98 56.81,223.02 55.84,223.06 54.87,223.1 53.91,223.15 52.96,223.2 52.03,223.25 51.13,223.31 50.28,223.37 49.5,223.43 48.78,223.5 48.12,223.57 47.52,223.64 46.96,223.71 46.42,223.8 45.93,223.88 44.92,224.09 44,224.3 43.2,224.51 42.42,224.73 41.84,224.94 40.94,225.47Z" fill="none" stroke="#ff35ff" stroke-width="1.1" stroke-linejoin="round"/>
<path d="M40.7,237.3 40.57,236.93 40.63,236.37 40.81,235.51 41.08,234.33 41.27,233.19 41.46,232.11 41.65,231.23 41.85,230.39 42.06,229.58 42.27,228.82 42.49,228.09 42.7,227.42 42.95,226.7 43.2,226 43.46,225.31 43.75,224.54 44.02,223.87 44.31,223.13 44.64,222.35 44.99,221.53 45.36,220.7 45.74,219.91 46.12,219.18 46.51,218.49 46.92,217.82 47.35,217.15 47.81,216.49 48.29,215.84 48.8,215.19 49.31,214.56 49.84,213.96 50.38,213.36 50.95,212.76 51.54,212.16 52.16,211.57 52.79,210.98 53.43,210.4 54.05,209.86 54.64,209.35 55.25,208.85 55.87,208.35 56.51,207.86 57.16,207.37 57.83,206.88 58.51,206.4 59.21,205.93 59.91,205.46 60.6,205.03 61.31,204.6 62.04,204.17 62.8,203.75 63.57,203.32 64.36,202.91 65.15,202.51 65.92,202.13 66.68,201.76 67.4,201.43 68.1,201.12 68.84,200.79 69.53,200.51 70.19,200.25 70.85,199.99 71.56,199.71 72.33,199.42 73.17,199.09 74.11,198.74 74.63,198.53 75.18,198.32 75.73,198.1 76.3,197.87 76.9,197.63 77.53,197.38 78.21,197.1 78.91,196.81 79.65,196.51 80.41,196.2 81.19,195.88 81.99,195.56 82.79,195.23 83.61,194.89 84.44,194.56 85.27,194.22 86.11,193.89 86.95,193.55 87.79,193.21 88.63,192.88 89.48,192.54 90.34,192.21 91.18,191.88 92.03,191.55 92.87,191.23 93.7,190.92 94.51,190.62 95.26,190.35 95.97,190.09 96.68,189.83 97.39,189.58 98.12,189.33 98.85,189.07 99.6,188.81 100.35,188.55 101.11,188.29 101.88,188.04 102.65,187.78 103.42,187.52 104.2,187.26 104.97,187.01 105.75,186.75 106.53,186.49 107.31,186.24 108.09,185.98 108.87,185.73 109.65,185.47 110.43,185.22 111.21,184.96 111.99,184.71 112.77,184.45 113.54,184.19 114.32,183.94 115.09,183.68 115.85,183.42 116.61,183.16 117.36,182.91 118.1,182.65 118.84,182.39 119.57,182.14 120.32,181.87 121.1,181.59 121.89,181.31 122.7,181.01 123.52,180.71 124.35,180.4 125.18,180.09 126.02,179.77 126.85,179.45 127.69,179.13 128.52,178.81 129.35,178.49 130.19,178.17 131.02,177.85 131.84,177.54 132.66,177.22 133.47,176.91 134.27,176.61 135.06,176.3 135.85,176.01 136.62,175.72 137.37,175.45 138.09,175.18 138.78,174.93 139.44,174.7 140.06,174.49 140.65,174.29 141.21,174.1 141.76,173.93 142.29,173.76 142.83,173.6 143.84,173.31 144.79,173.06 145.66,172.84 146.46,172.65 147.21,172.48 147.96,172.32 148.72,172.16 149.54,172 150.33,171.85 151.09,171.71 151.87,171.58 152.68,171.44 153.52,171.29 154.37,171.16 155.24,171.02 156.12,170.89 156.98,170.77 157.84,170.65 158.67,170.55 159.48,170.46 160.27,170.38 161.07,170.3 161.9,170.23 162.7,170.17 163.48,170.13 164.26,170.08 165.01,170.04 165.76,170.01 166.51,169.97 167.28,169.93 168.06,169.88 168.86,169.83 169.71,169.76 170.66,169.68 171.66,169.58 172.69,169.49 173.69,169.43 174.61,169.4 175.4,169.43 176.04,169.51 176.63,169.55 177.14,169.55 177.56,169.59 178.51,170.05 178.9,170.8 178.86,171.53 178.6,172.44 178.37,173.23 178.14,173.93 177.97,174.72 177.74,175.58 177.46,176.48 177.15,177.37 176.85,178.16 176.56,178.88 176.24,179.6 175.9,180.34 175.52,181.09 175.12,181.86 174.7,182.62 174.27,183.37 173.82,184.11 173.41,184.76 172.99,185.41 172.55,186.06 172.1,186.71 171.62,187.35 171.14,187.99 170.63,188.62 170.11,189.24 169.58,189.84 169.04,190.43 168.48,191.01 167.9,191.57 167.3,192.13 166.69,192.67 166.07,193.21 165.42,193.74 164.77,194.26 164.11,194.78 163.44,195.29 162.76,195.78 162.12,196.25 161.47,196.7 160.81,197.16 160.14,197.61 159.46,198.06 158.76,198.5 158.06,198.94 157.35,199.37 156.64,199.79 155.93,200.19 155.23,200.59 154.54,200.96 153.87,201.31 153.21,201.65 152.57,201.97 151.91,202.29 151.21,202.63 150.47,202.97 149.68,203.34 148.83,203.74 147.93,204.14 147.2,204.48 146.63,204.74 146.05,205 145.45,205.27 144.83,205.54 144.18,205.83 143.5,206.13 142.79,206.45 142.06,206.77 141.29,207.1 140.51,207.45 139.73,207.79 138.93,208.13 138.13,208.49 137.33,208.84 136.52,209.19 135.71,209.55 134.89,209.9 134.09,210.26 133.28,210.62 132.49,210.97 131.7,211.32 130.93,211.67 130.18,212.01 129.44,212.35 128.71,212.68 128.01,213.01 127.27,213.36 126.52,213.72 125.77,214.08 125.01,214.44 124.25,214.82 123.49,215.19 122.73,215.57 121.97,215.94 121.22,216.32 120.47,216.7 119.72,217.07 118.97,217.45 118.23,217.82 117.49,218.19 116.76,218.55 116.03,218.91 115.32,219.26 114.62,219.6 113.93,219.93 113.27,220.25 112.62,220.55 111.97,220.85 111.32,221.15 110.67,221.44 109.85,221.81 109.02,222.16 108.2,222.51 107.4,222.85 106.62,223.17 105.86,223.47 105.13,223.76 104.41,224.05 103.7,224.33 102.99,224.6 102.27,224.87 101.56,225.15 100.83,225.42 100.1,225.7 99.35,225.99 98.57,226.29 97.79,226.59 97,226.89 96.23,227.19 95.45,227.49 94.68,227.78 93.91,228.06 93.14,228.35 92.36,228.62 91.58,228.88 90.8,229.14 90,229.38 89.21,229.61 88.41,229.83 87.62,230.03 86.83,230.21 86.02,230.38 85.19,230.55 84.34,230.71 83.47,230.85 82.6,230.99 81.72,231.12 80.84,231.24 79.97,231.35 79.13,231.45 78.32,231.55 77.53,231.63 76.78,231.71 76.05,231.77 75.34,231.83 74.54,231.89 73.67,231.95 72.86,231.99 72.1,232.03 71.34,232.07 70.58,232.1 69.78,232.14 68.93,232.18 68.01,232.23 67.32,232.28 66.62,232.33 65.87,232.39 65.08,232.45 64.26,232.53 63.4,232.61 62.51,232.69 61.6,232.79 60.68,232.89 59.76,232.99 58.85,233.09 57.97,233.2 57.12,233.31 56.31,233.43 55.54,233.54 54.8,233.66 54.09,233.78 53.29,233.92 52.38,234.1 51.47,234.29 50.59,234.49 49.75,234.69 48.97,234.88 48.23,235.06 47.54,235.25 46.86,235.42 46.21,235.6 45.38,235.82 44.41,236.07 43.49,236.31 42.63,236.59 42,236.81 41.02,237.3Z" fill="none" stroke="#2a2ad0" stroke-width="1.1" stroke-linejoin="round"/>
<path d="M40.3,244.4 40.18,244.09 40.22,243.63 40.35,242.98 40.59,242.11 40.85,241.05 41.06,239.97 41.31,238.91 41.55,238.01 41.77,237.2 42,236.42 42.23,235.65 42.48,234.88 42.73,234.12 42.99,233.35 43.26,232.59 43.54,231.83 43.85,231.02 44.16,230.23 44.48,229.43 44.8,228.64 45.13,227.85 45.45,227.06 45.78,226.26 46.08,225.51 46.38,224.76 46.68,224 46.99,223.25 47.3,222.49 47.63,221.75 47.97,221.03 48.32,220.34 48.7,219.63 49.09,218.94 49.5,218.28 49.92,217.62 50.37,216.97 50.83,216.31 51.33,215.63 51.79,215.03 52.27,214.42 52.77,213.8 53.28,213.17 53.82,212.54 54.37,211.92 54.93,211.31 55.49,210.71 56.05,210.14 56.62,209.57 57.2,209.02 57.78,208.49 58.38,207.96 58.98,207.44 59.59,206.94 60.22,206.44 60.85,205.96 61.5,205.48 62.18,205 62.89,204.52 63.62,204.05 64.36,203.58 65.11,203.14 65.87,202.7 66.62,202.29 67.36,201.9 68.08,201.54 68.81,201.19 69.51,200.87 70.2,200.57 70.89,200.27 71.61,199.97 72.36,199.66 73.16,199.33 74,198.98 74.64,198.72 75.3,198.44 75.99,198.16 76.69,197.86 77.43,197.54 78.21,197.21 79.01,196.87 79.82,196.52 80.64,196.16 81.46,195.8 82.26,195.44 83.06,195.07 83.84,194.71 84.59,194.35 85.31,193.99 86.03,193.63 86.74,193.26 87.41,192.9 88.05,192.55 88.68,192.2 89.29,191.85 89.92,191.5 90.57,191.13 91.25,190.75 91.99,190.34 92.78,189.9 93.63,189.45 94.5,188.99 95.22,188.63 95.77,188.35 96.33,188.08 96.91,187.8 97.51,187.52 98.14,187.22 98.81,186.91 99.51,186.59 100.23,186.26 100.99,185.92 101.76,185.57 102.55,185.22 103.34,184.87 104.14,184.52 104.95,184.16 105.76,183.81 106.59,183.45 107.41,183.09 108.23,182.73 109.05,182.37 109.88,182.02 110.7,181.66 111.52,181.31 112.33,180.96 113.14,180.61 113.94,180.26 114.72,179.92 115.49,179.59 116.23,179.26 116.95,178.95 117.63,178.64 118.3,178.35 118.95,178.06 119.59,177.77 120.31,177.45 121.15,177.07 121.98,176.7 122.81,176.32 123.63,175.95 124.43,175.58 125.21,175.22 125.97,174.87 126.72,174.53 127.45,174.19 128.18,173.86 128.9,173.53 129.61,173.21 130.3,172.89 130.99,172.58 131.65,172.28 132.31,171.99 132.95,171.7 133.6,171.42 134.25,171.13 134.9,170.85 135.75,170.48 136.58,170.13 137.4,169.78 138.18,169.45 138.94,169.13 139.68,168.82 140.41,168.53 141.14,168.24 141.87,167.96 142.63,167.67 143.4,167.39 144.2,167.11 145.01,166.83 145.75,166.59 146.49,166.35 147.25,166.11 148.03,165.88 148.81,165.65 149.62,165.42 150.43,165.19 151.25,164.97 152.08,164.75 152.9,164.54 153.72,164.34 154.52,164.16 155.31,163.98 156.08,163.82 156.85,163.66 157.6,163.52 158.4,163.38 159.25,163.24 160.11,163.12 160.96,163 161.8,162.9 162.63,162.81 163.45,162.73 164.25,162.65 165.04,162.59 165.81,162.52 166.57,162.45 167.33,162.39 168.09,162.32 168.9,162.24 169.82,162.14 170.8,162.04 171.81,161.93 172.83,161.83 173.78,161.77 174.64,161.75 175.37,161.78 175.98,161.87 176.55,161.87 177.05,161.88 177.81,162.02 178.7,162.59 178.97,163.32 178.88,164.02 178.67,164.89 178.41,165.77 178.23,166.51 178.06,167.33 177.84,168.21 177.58,169.11 177.3,170.01 177.02,170.88 176.77,171.6 176.51,172.31 176.25,172.99 175.96,173.7 175.65,174.42 175.32,175.17 174.95,175.96 174.63,176.61 174.29,177.27 173.92,177.97 173.53,178.68 173.11,179.42 172.67,180.17 172.22,180.92 171.76,181.66 171.3,182.38 170.84,183.08 170.38,183.75 169.91,184.42 169.41,185.1 168.89,185.78 168.37,186.46 167.84,187.11 167.31,187.75 166.77,188.38 166.23,188.99 165.69,189.58 165.14,190.16 164.56,190.76 163.96,191.36 163.36,191.94 162.75,192.51 162.14,193.07 161.52,193.62 160.89,194.18 160.25,194.73 159.6,195.3 158.99,195.82 158.36,196.36 157.72,196.91 157.07,197.46 156.41,198.01 155.74,198.56 155.07,199.09 154.41,199.61 153.77,200.11 153.14,200.59 152.46,201.07 151.84,201.52 151.22,201.94 150.59,202.37 149.91,202.82 149.16,203.3 148.34,203.82 147.46,204.37 146.98,204.67 146.49,204.98 145.97,205.29 145.44,205.62 144.88,205.96 144.29,206.31 143.66,206.7 142.99,207.1 142.29,207.51 141.57,207.94 140.82,208.38 140.06,208.83 139.3,209.28 138.53,209.74 137.76,210.19 136.97,210.65 136.19,211.11 135.41,211.57 134.62,212.03 133.84,212.48 133.06,212.94 132.29,213.39 131.53,213.83 130.79,214.27 130.06,214.69 129.36,215.11 128.66,215.51 127.99,215.91 127.29,216.32 126.58,216.74 125.86,217.16 125.13,217.59 124.41,218.02 123.68,218.45 122.95,218.88 122.22,219.31 121.5,219.74 120.78,220.16 120.06,220.59 119.34,221.01 118.62,221.43 117.91,221.84 117.21,222.25 116.51,222.66 115.81,223.06 115.13,223.45 114.46,223.84 113.81,224.21 113.17,224.56 112.55,224.91 111.93,225.26 111.31,225.6 110.69,225.94 109.89,226.37 109.08,226.81 108.29,227.23 107.5,227.64 106.75,228.04 106.01,228.42 105.3,228.79 104.6,229.14 103.9,229.49 103.21,229.83 102.52,230.17 101.82,230.51 101.12,230.84 100.41,231.17 99.68,231.5 98.94,231.84 98.19,232.17 97.44,232.5 96.7,232.83 95.95,233.14 95.21,233.45 94.47,233.76 93.72,234.06 92.98,234.35 92.23,234.65 91.48,234.93 90.72,235.21 89.95,235.49 89.19,235.77 88.41,236.04 87.65,236.29 86.88,236.55 86.09,236.81 85.29,237.07 84.45,237.33 83.61,237.58 82.77,237.83 81.91,238.08 81.06,238.32 80.21,238.55 79.39,238.77 78.59,238.97 77.82,239.15 77.09,239.32 76.37,239.47 75.68,239.6 75.01,239.72 74.1,239.86 73.28,239.97 72.49,240.06 71.73,240.14 70.97,240.2 70.19,240.26 69.36,240.32 68.47,240.37 67.66,240.42 66.97,240.46 66.24,240.5 65.48,240.54 64.68,240.57 63.83,240.62 62.96,240.66 62.06,240.7 61.14,240.74 60.22,240.78 59.3,240.83 58.41,240.88 57.55,240.93 56.72,240.98 55.95,241.04 55.2,241.1 54.48,241.16 53.78,241.22 52.82,241.32 51.85,241.43 50.91,241.55 50,241.68 49.15,241.81 48.36,241.95 47.61,242.09 46.89,242.25 46.18,242.42 45.36,242.63 44.42,242.9 43.54,243.14 42.72,243.41 42.03,243.68 41.29,244.03 40.56,244.43Z" fill="none" stroke="#ff2a2a" stroke-width="1.1" stroke-linejoin="round"/>
<path d="M40.7,253.8 40.57,253.51 40.58,253.08 40.68,252.48 40.86,251.7 41.1,250.71 41.26,249.66 41.49,248.53 41.72,247.47 41.94,246.56 42.12,245.81 42.3,245.07 42.49,244.32 42.69,243.56 42.9,242.78 43.12,241.98 43.35,241.19 43.59,240.4 43.84,239.62 44.09,238.86 44.35,238.12 44.64,237.33 44.95,236.55 45.26,235.78 45.58,235.02 45.9,234.27 46.23,233.54 46.55,232.83 46.88,232.11 47.22,231.4 47.57,230.65 47.96,229.85 48.36,229.05 48.76,228.26 49.16,227.49 49.57,226.75 49.99,226.05 50.41,225.38 50.87,224.7 51.35,224.03 51.83,223.38 52.33,222.75 52.84,222.1 53.37,221.43 53.88,220.78 54.35,220.17 54.84,219.54 55.33,218.87 55.85,218.19 56.37,217.49 56.9,216.79 57.42,216.11 57.95,215.45 58.46,214.81 58.99,214.17 59.53,213.54 60.07,212.92 60.62,212.32 61.17,211.73 61.73,211.15 62.29,210.58 62.86,210.01 63.44,209.46 64.03,208.9 64.62,208.36 65.21,207.83 65.81,207.3 66.42,206.76 67.03,206.2 67.66,205.64 68.25,205.09 68.81,204.56 69.37,204.03 69.93,203.5 70.5,202.95 71.09,202.39 71.71,201.83 72.36,201.26 73.04,200.69 73.74,200.14 74.39,199.67 74.99,199.26 75.62,198.85 76.26,198.45 76.95,198.05 77.67,197.65 78.42,197.25 79.2,196.84 79.99,196.44 80.78,196.04 81.57,195.64 82.35,195.25 83.12,194.86 83.87,194.47 84.6,194.09 85.31,193.72 86.03,193.33 86.74,192.94 87.41,192.57 88.05,192.2 88.68,191.85 89.3,191.5 89.92,191.15 90.56,190.79 91.25,190.41 91.98,190.01 92.78,189.58 93.63,189.13 94.51,188.68 95.23,188.32 95.79,188.05 96.34,187.78 96.91,187.51 97.49,187.23 98.11,186.95 98.75,186.65 99.42,186.35 100.12,186.03 100.84,185.7 101.59,185.38 102.33,185.04 103.1,184.71 103.87,184.37 104.66,184.03 105.45,183.69 106.24,183.35 107.04,183 107.85,182.66 108.66,182.31 109.47,181.96 110.28,181.61 111.09,181.27 111.9,180.92 112.71,180.57 113.52,180.22 114.32,179.88 115.11,179.54 115.9,179.2 116.67,178.86 117.43,178.53 118.18,178.2 118.91,177.88 119.63,177.56 120.35,177.24 121.09,176.91 121.85,176.57 122.62,176.23 123.41,175.88 124.2,175.53 124.99,175.17 125.79,174.82 126.6,174.46 127.4,174.1 128.2,173.74 129,173.38 129.8,173.02 130.6,172.67 131.39,172.31 132.17,171.96 132.96,171.61 133.73,171.26 134.5,170.91 135.26,170.57 136,170.23 136.74,169.9 137.45,169.57 138.15,169.25 138.83,168.94 139.47,168.65 140.07,168.36 140.65,168.09 141.21,167.84 141.75,167.58 142.29,167.33 142.82,167.07 143.74,166.63 144.64,166.2 145.5,165.78 146.29,165.39 147.02,165.03 147.7,164.69 148.33,164.36 148.96,164.04 149.59,163.72 150.23,163.38 150.91,163.03 151.67,162.62 152.44,162.21 153.2,161.79 153.96,161.38 154.71,160.97 155.45,160.57 156.18,160.18 156.92,159.79 157.65,159.41 158.39,159.04 159.13,158.67 159.87,158.31 160.62,157.96 161.36,157.62 162.11,157.29 162.85,156.96 163.6,156.65 164.35,156.35 165.1,156.06 165.89,155.77 166.69,155.49 167.5,155.22 168.31,154.95 169.1,154.71 169.87,154.47 170.64,154.24 171.39,154.02 172.15,153.81 173.07,153.55 174.05,153.31 174.97,153.13 175.79,153.04 176.56,152.86 177.17,152.73 177.89,152.7 178.69,153.01 178.97,153.63 178.76,154.42 178.47,155.56 178.32,156.15 178.19,156.83 178.08,157.57 177.93,158.39 177.75,159.26 177.56,160.16 177.36,161.06 177.15,161.93 176.96,162.73 176.76,163.51 176.56,164.27 176.35,165.03 176.13,165.8 175.89,166.57 175.65,167.36 175.38,168.16 175.1,168.96 174.82,169.74 174.54,170.5 174.24,171.27 173.92,172.05 173.59,172.85 173.24,173.64 172.89,174.44 172.52,175.22 172.16,175.99 171.79,176.73 171.43,177.45 171.05,178.18 170.65,178.92 170.24,179.63 169.84,180.33 169.43,181.02 169.02,181.69 168.6,182.36 168.17,183.04 167.73,183.72 167.27,184.4 166.81,185.09 166.33,185.78 165.84,186.48 165.35,187.17 164.84,187.85 164.33,188.52 163.81,189.18 163.28,189.82 162.74,190.45 162.18,191.08 161.61,191.7 161.02,192.31 160.43,192.91 159.83,193.5 159.22,194.08 158.62,194.65 158.01,195.22 157.41,195.79 156.78,196.37 156.14,196.96 155.5,197.55 154.86,198.13 154.23,198.7 153.6,199.26 152.98,199.8 152.37,200.34 151.74,200.87 151.11,201.41 150.49,201.93 149.87,202.45 149.24,202.97 148.59,203.49 147.92,204.04 147.29,204.55 146.71,205.02 146.13,205.49 145.55,205.96 144.94,206.45 144.3,206.96 143.63,207.5 142.92,208.06 142.18,208.64 141.42,209.23 140.77,209.74 140.22,210.16 139.65,210.6 139.06,211.05 138.43,211.53 137.77,212.02 137.08,212.54 136.36,213.08 135.63,213.62 134.89,214.18 134.14,214.73 133.4,215.28 132.67,215.82 131.96,216.35 131.27,216.87 130.61,217.36 129.99,217.82 129.39,218.26 128.82,218.68 128.27,219.09 127.62,219.57 126.89,220.11 126.21,220.62 125.57,221.09 124.96,221.54 124.35,222.01 123.72,222.49 123.07,223 122.36,223.57 121.74,224.08 121.23,224.51 120.7,224.96 120.17,225.44 119.62,225.93 119.04,226.45 118.45,227 117.84,227.57 117.22,228.15 116.58,228.74 115.94,229.34 115.29,229.93 114.65,230.52 114.01,231.09 113.37,231.66 112.73,232.2 112.11,232.73 111.49,233.24 110.88,233.73 110.25,234.22 109.59,234.73 108.92,235.23 108.24,235.72 107.56,236.21 106.87,236.69 106.19,237.16 105.5,237.63 104.82,238.08 104.13,238.51 103.44,238.94 102.76,239.36 102.07,239.76 101.38,240.14 100.69,240.52 100,240.88 99.3,241.23 98.54,241.6 97.77,241.95 97.01,242.28 96.24,242.6 95.47,242.91 94.7,243.2 93.93,243.47 93.16,243.74 92.38,244 91.6,244.24 90.8,244.49 90,244.72 89.2,244.94 88.39,245.16 87.61,245.36 86.85,245.55 86.06,245.73 85.26,245.91 84.44,246.09 83.61,246.26 82.76,246.42 81.91,246.58 81.06,246.73 80.22,246.86 79.4,246.99 78.61,247.11 77.84,247.22 77.1,247.31 76.38,247.4 75.7,247.47 75.03,247.53 74.12,247.61 73.28,247.66 72.49,247.71 71.72,247.74 70.95,247.78 70.17,247.82 69.35,247.87 68.46,247.93 67.66,247.99 66.99,248.06 66.28,248.13 65.55,248.22 64.78,248.32 63.97,248.43 63.12,248.55 62.24,248.69 61.36,248.83 60.46,248.97 59.57,249.12 58.69,249.27 57.84,249.42 57.02,249.57 56.24,249.72 55.5,249.86 54.79,250 54.1,250.14 53.31,250.31 52.4,250.51 51.48,250.72 50.6,250.94 49.75,251.15 48.97,251.35 48.23,251.54 47.54,251.73 46.86,251.92 46.2,252.11 45.36,252.34 44.35,252.61 43.41,252.87 42.57,253.16 41.96,253.4 41.03,253.83Z" fill="none" stroke="#1a1a1a" stroke-width="1.1" stroke-linejoin="round"/>
<line x1="85" y1="211.5" x2="86.6" y2="243" stroke="#111" stroke-width="0.9"/>
<path d="M85.0,242 L88.4,241.6 L86.9,246.3 Z" fill="#111"/>
<rect x="228.3" y="148.6" width="147.2" height="107.6" fill="none" stroke="#7c7c7c" stroke-width="1.15"/>
<line x1="226.3" y1="256.2" x2="228.3" y2="256.2" stroke="#8a8a8a" stroke-width="1.0"/>
<line x1="226.3" y1="220.46" x2="228.3" y2="220.46" stroke="#8a8a8a" stroke-width="1.0"/>
<line x1="226.3" y1="184.72" x2="228.3" y2="184.72" stroke="#8a8a8a" stroke-width="1.0"/>
<line x1="226.3" y1="148.98" x2="228.3" y2="148.98" stroke="#8a8a8a" stroke-width="1.0"/>
<line x1="227.1" y1="238.33" x2="228.3" y2="238.33" stroke="#8a8a8a" stroke-width="1.0"/>
<line x1="227.1" y1="202.59" x2="228.3" y2="202.59" stroke="#8a8a8a" stroke-width="1.0"/>
<line x1="227.1" y1="166.85" x2="228.3" y2="166.85" stroke="#8a8a8a" stroke-width="1.0"/>
<line x1="231" y1="256.2" x2="231" y2="258.2" stroke="#8a8a8a" stroke-width="1.0"/>
<line x1="279.2" y1="256.2" x2="279.2" y2="258.2" stroke="#8a8a8a" stroke-width="1.0"/>
<line x1="327.4" y1="256.2" x2="327.4" y2="258.2" stroke="#8a8a8a" stroke-width="1.0"/>
<line x1="375.6" y1="256.2" x2="375.6" y2="258.2" stroke="#8a8a8a" stroke-width="1.0"/>
<line x1="255.1" y1="256.2" x2="255.1" y2="257.4" stroke="#8a8a8a" stroke-width="1.0"/>
<line x1="303.3" y1="256.2" x2="303.3" y2="257.4" stroke="#8a8a8a" stroke-width="1.0"/>
<line x1="351.5" y1="256.2" x2="351.5" y2="257.4" stroke="#8a8a8a" stroke-width="1.0"/>
<text x="224.5" y="259.1" font-family="Liberation Sans" font-size="8.5" text-anchor="end" fill="#1a1a1a" stroke="#1a1a1a" stroke-width="0.12" >0</text>
<text x="224.5" y="223.36" font-family="Liberation Sans" font-size="8.5" text-anchor="end" fill="#1a1a1a" stroke="#1a1a1a" stroke-width="0.12" >-200</text>
<text x="224.5" y="187.62" font-family="Liberation Sans" font-size="8.5" text-anchor="end" fill="#1a1a1a" stroke="#1a1a1a" stroke-width="0.12" >-400</text>
<text x="224.5" y="151.88" font-family="Liberation Sans" font-size="8.5" text-anchor="end" fill="#1a1a1a" stroke="#1a1a1a" stroke-width="0.12" >-600</text>
<text x="231" y="266.4" font-family="Liberation Sans" font-size="8.5" text-anchor="middle" fill="#1a1a1a" stroke="#1a1a1a" stroke-width="0.12" >0.0</text>
<text x="279.2" y="266.4" font-family="Liberation Sans" font-size="8.5" text-anchor="middle" fill="#1a1a1a" stroke="#1a1a1a" stroke-width="0.12" >0.2</text>
<text x="327.4" y="266.4" font-family="Liberation Sans" font-size="8.5" text-anchor="middle" fill="#1a1a1a" stroke="#1a1a1a" stroke-width="0.12" >0.4</text>
<text x="375.6" y="266.4" font-family="Liberation Sans" font-size="8.5" text-anchor="middle" fill="#1a1a1a" stroke="#1a1a1a" stroke-width="0.12" >0.6</text>
<text x="302.9" y="280.4" font-family="Liberation Sans" font-size="9.2" text-anchor="middle" fill="#1a1a1a" stroke="#1a1a1a" stroke-width="0.12" ><tspan font-style="italic">v</tspan> / V s<tspan dy="-5" font-size="7.5">-1</tspan></text>
<text transform="translate(200.5,204.6) rotate(-90)" font-family="Liberation Sans" font-size="10.0" text-anchor="middle" fill="#1a1a1a" stroke="#1a1a1a" stroke-width="0.1"><tspan font-style="italic">j</tspan><tspan dy="2.4" font-size="7.5">p</tspan><tspan dy="-2.4"> / μA cm</tspan><tspan dy="-4" font-size="7.5">-2</tspan></text>
<circle cx="232.6" cy="247.7" r="1.45" fill="#111"/>
<circle cx="233.4" cy="244.7" r="1.45" fill="#111"/>
<circle cx="237.2" cy="237.0" r="1.45" fill="#111"/>
<circle cx="242.9" cy="227.9" r="1.45" fill="#111"/>
<circle cx="249.4" cy="219.5" r="1.45" fill="#111"/>
<circle cx="255.4" cy="211.7" r="1.45" fill="#111"/>
<circle cx="279.2" cy="191.6" r="1.45" fill="#111"/>
<circle cx="303.6" cy="177.3" r="1.45" fill="#111"/>
<circle cx="327.2" cy="163.7" r="1.45" fill="#111"/>
<line x1="231.8" y1="246.7" x2="255.4" y2="210.1" stroke="#ff1a1a" stroke-width="1.7"/>
<line x1="255.4" y1="210.1" x2="295.0" y2="148.8" stroke="#ff2a2a" stroke-width="1.4" stroke-dasharray="1.2,0.9"/>
<rect x="316.3" y="192.6" width="56.3" height="45.2" fill="#fff" stroke="#a0a0a0" stroke-width="0.8"/>
<line x1="315.3" y1="237.8" x2="316.3" y2="237.8" stroke="#8a8a8a" stroke-width="0.6"/>
<line x1="315.3" y1="222.74" x2="316.3" y2="222.74" stroke="#8a8a8a" stroke-width="0.6"/>
<line x1="315.3" y1="207.68" x2="316.3" y2="207.68" stroke="#8a8a8a" stroke-width="0.6"/>
<line x1="315.3" y1="192.62" x2="316.3" y2="192.62" stroke="#8a8a8a" stroke-width="0.6"/>
<line x1="316.9" y1="237.8" x2="316.9" y2="238.8" stroke="#8a8a8a" stroke-width="0.6"/>
<line x1="332.2" y1="237.8" x2="332.2" y2="238.8" stroke="#8a8a8a" stroke-width="0.6"/>
<line x1="347.5" y1="237.8" x2="347.5" y2="238.8" stroke="#8a8a8a" stroke-width="0.6"/>
<line x1="362.8" y1="237.8" x2="362.8" y2="238.8" stroke="#8a8a8a" stroke-width="0.6"/>
<text x="315.3" y="239.7" font-family="Liberation Sans" font-size="5.6" text-anchor="end" fill="#555" stroke="#555" stroke-width="0" >0</text>
<text x="315.3" y="224.64" font-family="Liberation Sans" font-size="5.6" text-anchor="end" fill="#555" stroke="#555" stroke-width="0" >-200</text>
<text x="315.3" y="209.58" font-family="Liberation Sans" font-size="5.6" text-anchor="end" fill="#555" stroke="#555" stroke-width="0" >-400</text>
<text x="315.3" y="194.52" font-family="Liberation Sans" font-size="5.6" text-anchor="end" fill="#555" stroke="#555" stroke-width="0" >-600</text>
<text x="316.9" y="243.7" font-family="Liberation Sans" font-size="5.6" text-anchor="middle" fill="#555" stroke="#555" stroke-width="0" >0.0</text>
<text x="332.2" y="243.7" font-family="Liberation Sans" font-size="5.6" text-anchor="middle" fill="#555" stroke="#555" stroke-width="0" >0.2</text>
<text x="347.5" y="243.7" font-family="Liberation Sans" font-size="5.6" text-anchor="middle" fill="#555" stroke="#555" stroke-width="0" >0.4</text>
<text x="362.8" y="243.7" font-family="Liberation Sans" font-size="5.6" text-anchor="middle" fill="#555" stroke="#555" stroke-width="0" >0.6</text>
<text transform="translate(301.7,212.6) rotate(-90)" font-family="Liberation Sans" font-size="6.7" text-anchor="middle" fill="#333" stroke="#333" stroke-width="0"><tspan font-style="italic">j</tspan><tspan dy="1.3" font-size="4.9">p</tspan><tspan dy="-1.3"> / μA cm</tspan><tspan dy="-2.7" font-size="4.9">-2</tspan></text>
<text x="346.5" y="252.6" font-family="Liberation Sans" font-size="6.4" text-anchor="middle" fill="#333" stroke="#333" stroke-width="0.05" ><tspan font-style="italic">v</tspan><tspan dy="-2.7" font-size="4.9">1/2</tspan><tspan dy="2.7"> / (V s</tspan><tspan dy="-2.7" font-size="4.9">-1</tspan><tspan dy="2.7">)</tspan><tspan dy="-2.7" font-size="4.9">1/2</tspan></text>
<line x1="321.4" y1="235.7" x2="367.5" y2="198.4" stroke="#ff3a3a" stroke-width="1.3"/>
<circle cx="322.2" cy="234.8" r="1.0" fill="#222266"/>
<circle cx="324.8" cy="233.6" r="1.0" fill="#222266"/>
<circle cx="329.2" cy="230.1" r="1.0" fill="#222266"/>
<circle cx="334.6" cy="226.6" r="1.0" fill="#222266"/>
<circle cx="338.6" cy="222.6" r="1.0" fill="#222266"/>
<circle cx="341.7" cy="219.5" r="1.0" fill="#222266"/>
<circle cx="352.3" cy="210.8" r="1.0" fill="#222266"/>
<circle cx="360" cy="204.5" r="1.0" fill="#222266"/>
<circle cx="366.4" cy="199.1" r="1.0" fill="#222266"/>
<rect x="37" y="289" width="144.6" height="109.1" fill="none" stroke="#7c7c7c" stroke-width="1.15"/>
<line x1="35" y1="293.42" x2="37" y2="293.42" stroke="#8a8a8a" stroke-width="1.0"/>
<line x1="35" y1="315.71" x2="37" y2="315.71" stroke="#8a8a8a" stroke-width="1.0"/>
<line x1="35" y1="338" x2="37" y2="338" stroke="#8a8a8a" stroke-width="1.0"/>
<line x1="35" y1="360.29" x2="37" y2="360.29" stroke="#8a8a8a" stroke-width="1.0"/>
<line x1="35" y1="382.58" x2="37" y2="382.58" stroke="#8a8a8a" stroke-width="1.0"/>
<line x1="35.8" y1="304.56" x2="37" y2="304.56" stroke="#8a8a8a" stroke-width="1.0"/>
<line x1="35.8" y1="326.86" x2="37" y2="326.86" stroke="#8a8a8a" stroke-width="1.0"/>
<line x1="35.8" y1="349.14" x2="37" y2="349.14" stroke="#8a8a8a" stroke-width="1.0"/>
<line x1="35.8" y1="371.44" x2="37" y2="371.44" stroke="#8a8a8a" stroke-width="1.0"/>
<line x1="35.8" y1="393.73" x2="37" y2="393.73" stroke="#8a8a8a" stroke-width="1.0"/>
<line x1="40" y1="398.1" x2="40" y2="400.1" stroke="#8a8a8a" stroke-width="1.0"/>
<line x1="74.68" y1="398.1" x2="74.68" y2="400.1" stroke="#8a8a8a" stroke-width="1.0"/>
<line x1="109.36" y1="398.1" x2="109.36" y2="400.1" stroke="#8a8a8a" stroke-width="1.0"/>
<line x1="144.04" y1="398.1" x2="144.04" y2="400.1" stroke="#8a8a8a" stroke-width="1.0"/>
<line x1="178.72" y1="398.1" x2="178.72" y2="400.1" stroke="#8a8a8a" stroke-width="1.0"/>
<line x1="57.34" y1="398.1" x2="57.34" y2="399.3" stroke="#8a8a8a" stroke-width="1.0"/>
<line x1="92.02" y1="398.1" x2="92.02" y2="399.3" stroke="#8a8a8a" stroke-width="1.0"/>
<line x1="126.7" y1="398.1" x2="126.7" y2="399.3" stroke="#8a8a8a" stroke-width="1.0"/>
<line x1="161.38" y1="398.1" x2="161.38" y2="399.3" stroke="#8a8a8a" stroke-width="1.0"/>
<text x="33.2" y="296.32" font-family="Liberation Sans" font-size="8.5" text-anchor="end" fill="#1a1a1a" stroke="#1a1a1a" stroke-width="0.12" >600</text>
<text x="33.2" y="318.61" font-family="Liberation Sans" font-size="8.5" text-anchor="end" fill="#1a1a1a" stroke="#1a1a1a" stroke-width="0.12" >300</text>
<text x="33.2" y="340.9" font-family="Liberation Sans" font-size="8.5" text-anchor="end" fill="#1a1a1a" stroke="#1a1a1a" stroke-width="0.12" >0</text>
<text x="33.2" y="363.19" font-family="Liberation Sans" font-size="8.5" text-anchor="end" fill="#1a1a1a" stroke="#1a1a1a" stroke-width="0.12" >-300</text>
<text x="33.2" y="385.48" font-family="Liberation Sans" font-size="8.5" text-anchor="end" fill="#1a1a1a" stroke="#1a1a1a" stroke-width="0.12" >-600</text>
<text x="39.6" y="407.6" font-family="Liberation Sans" font-size="8.5" text-anchor="middle" fill="#1a1a1a" stroke="#1a1a1a" stroke-width="0.12" >-0.6</text>
<text x="74.28" y="407.6" font-family="Liberation Sans" font-size="8.5" text-anchor="middle" fill="#1a1a1a" stroke="#1a1a1a" stroke-width="0.12" >-0.4</text>
<text x="108.96" y="407.6" font-family="Liberation Sans" font-size="8.5" text-anchor="middle" fill="#1a1a1a" stroke="#1a1a1a" stroke-width="0.12" >-0.2</text>
<text x="144.04" y="407.6" font-family="Liberation Sans" font-size="8.5" text-anchor="middle" fill="#1a1a1a" stroke="#1a1a1a" stroke-width="0.12" >0.0</text>
<text x="178.72" y="407.6" font-family="Liberation Sans" font-size="8.5" text-anchor="middle" fill="#1a1a1a" stroke="#1a1a1a" stroke-width="0.12" >0.2</text>
<text x="110" y="418" font-family="Liberation Sans" font-size="9.2" text-anchor="middle" fill="#1a1a1a" stroke="#1a1a1a" stroke-width="0.12" >Potential (V vs. SCE)</text>
<text transform="translate(13.6,345.1) rotate(-90)" font-family="Liberation Sans" font-size="9.5" text-anchor="middle" fill="#1a1a1a" stroke="#1a1a1a" stroke-width="0.1">Current density (μA cm<tspan dy="-4.4" font-size="7.4">-2</tspan><tspan dy="4.4">)</tspan></text>
<path d="M40.8,358.2 40.9,357.93 41.21,357.45 41.78,356.66 42.66,355.65 43.39,354.84 44,354.21 44.58,353.66 45.2,353.14 45.85,352.61 46.52,352.1 47.19,351.59 47.85,351.09 48.48,350.6 49.13,350.08 49.75,349.59 50.37,349.11 50.99,348.62 51.67,348.13 52.41,347.62 52.97,347.27 53.55,346.92 54.18,346.58 54.86,346.23 55.58,345.88 56.35,345.53 57.15,345.17 57.98,344.81 58.82,344.45 59.65,344.1 60.47,343.74 61.27,343.39 62.04,343.05 62.76,342.72 63.48,342.38 64.2,342.05 64.94,341.7 65.67,341.35 66.42,341 67.16,340.65 67.92,340.3 68.67,339.97 69.42,339.64 70.18,339.32 70.93,339.02 71.68,338.73 72.44,338.46 73.2,338.21 73.96,337.96 74.73,337.74 75.5,337.52 76.28,337.31 77.05,337.12 77.83,336.93 78.61,336.75 79.39,336.57 80.16,336.4 80.93,336.23 81.71,336.06 82.48,335.89 83.27,335.72 84.08,335.55 84.9,335.38 85.72,335.21 86.54,335.04 87.36,334.88 88.18,334.71 88.99,334.55 89.8,334.39 90.6,334.23 91.39,334.08 92.17,333.92 92.95,333.77 93.74,333.61 94.54,333.45 95.3,333.29 96.05,333.14 96.79,332.99 97.52,332.84 98.28,332.69 99.05,332.52 99.86,332.35 100.7,332.17 101.58,331.98 102.37,331.8 103.06,331.64 103.77,331.47 104.5,331.3 105.26,331.12 106.03,330.93 106.84,330.73 107.66,330.53 108.5,330.32 109.35,330.11 110.2,329.9 111.05,329.69 111.9,329.48 112.75,329.28 113.57,329.09 114.38,328.9 115.18,328.73 115.95,328.56 116.71,328.4 117.51,328.24 118.35,328.07 119.19,327.91 120.03,327.75 120.86,327.6 121.69,327.45 122.52,327.31 123.32,327.17 124.13,327.04 124.93,326.92 125.72,326.8 126.51,326.7 127.28,326.59 128.06,326.5 128.83,326.41 129.6,326.33 130.43,326.25 131.26,326.18 132.07,326.12 132.86,326.07 133.65,326.02 134.43,325.99 135.2,325.96 135.98,325.93 136.76,325.92 137.54,325.91 138.34,325.91 139.14,325.92 139.96,325.94 140.75,325.96 141.56,326 142.39,326.04 143.23,326.09 144.08,326.15 144.94,326.22 145.79,326.29 146.65,326.37 147.49,326.45 148.31,326.54 149.11,326.62 149.89,326.7 150.66,326.78 151.41,326.87 152.22,326.96 153.09,327.06 153.95,327.16 154.78,327.27 155.58,327.37 156.38,327.46 157.16,327.56 157.95,327.65 158.75,327.74 159.56,327.82 160.38,327.9 161.2,327.97 162.03,328.03 162.86,328.09 163.69,328.15 164.53,328.2 165.36,328.25 166.19,328.3 167,328.36 167.8,328.41 168.6,328.47 169.43,328.54 170.37,328.62 171.36,328.71 172.39,328.81 173.39,328.92 174.32,329.05 175.13,329.2 175.8,329.35 176.47,329.43 177.04,329.52 177.86,329.72 178.68,330.09 178.62,330.56 177.5,331.06 176.91,331.25 176.14,331.47 175.34,331.73 174.54,332.01 173.71,332.27 172.93,332.48 172.15,332.68 171.43,332.85 170.71,333.01 169.94,333.16 169.09,333.31 168.44,333.41 167.77,333.51 167.05,333.59 166.29,333.68 165.48,333.75 164.62,333.83 163.71,333.9 162.76,333.98 161.79,334.06 160.83,334.14 159.88,334.23 159.18,334.29 158.47,334.36 157.76,334.43 157.02,334.51 156.25,334.58 155.45,334.67 154.63,334.75 153.79,334.84 152.95,334.93 152.08,335.03 151.23,335.12 150.37,335.21 149.53,335.31 148.69,335.4 147.87,335.49 147.06,335.58 146.27,335.67 145.49,335.76 144.69,335.85 143.85,335.94 143.01,336.03 142.17,336.13 141.35,336.22 140.53,336.32 139.72,336.41 138.91,336.5 138.11,336.59 137.32,336.69 136.52,336.79 135.73,336.88 134.94,336.99 134.14,337.09 133.34,337.19 132.54,337.3 131.72,337.41 130.89,337.52 130.05,337.63 129.19,337.75 128.33,337.87 127.46,337.99 126.6,338.12 125.75,338.25 124.91,338.38 124.09,338.52 123.3,338.66 122.55,338.8 121.81,338.95 121.1,339.11 120.41,339.27 119.62,339.48 118.75,339.72 117.89,339.98 117.08,340.24 116.29,340.5 115.54,340.77 114.81,341.03 114.09,341.29 113.37,341.56 112.62,341.85 111.83,342.14 111.06,342.44 110.3,342.73 109.54,343.02 108.79,343.32 108.05,343.61 107.3,343.91 106.55,344.21 105.81,344.51 105.07,344.81 104.33,345.11 103.59,345.42 102.85,345.74 102.12,346.07 101.37,346.4 100.61,346.74 99.85,347.09 99.09,347.44 98.33,347.77 97.56,348.09 96.77,348.39 95.97,348.67 95.2,348.92 94.39,349.14 93.55,349.34 92.7,349.51 91.84,349.64 90.99,349.74 90.18,349.79 89.38,349.8 88.58,349.77 87.75,349.69 86.93,349.58 86.12,349.44 85.3,349.28 84.49,349.1 83.68,348.92 82.88,348.74 82.08,348.56 81.27,348.39 80.47,348.23 79.67,348.08 78.87,347.94 78.07,347.81 77.28,347.7 76.51,347.61 75.75,347.55 74.98,347.5 74.18,347.47 73.33,347.48 72.44,347.52 71.67,347.58 71.01,347.66 70.33,347.77 69.63,347.9 68.88,348.06 68.1,348.24 67.28,348.45 66.43,348.68 65.56,348.93 64.67,349.18 63.8,349.44 62.93,349.71 62.07,349.96 61.24,350.21 60.44,350.45 59.66,350.68 58.88,350.9 58.08,351.13 57.26,351.36 56.43,351.6 55.59,351.83 54.75,352.07 53.93,352.31 53.11,352.55 52.31,352.78 51.55,353.02 50.82,353.26 50.13,353.49 49.45,353.72 48.79,353.97 48.15,354.22 47.24,354.59 46.29,355.01 45.36,355.45 44.52,355.86 43.79,356.23 43.13,356.58 42.56,356.91 42.08,357.2 41.01,358.05Z" fill="none" stroke="#22229a" stroke-width="1.1" stroke-linejoin="round"/>
<path d="M40.4,361.3 40.35,360.87 40.57,360.16 41.08,358.96 41.67,357.9 42.05,357.17 42.44,356.55 42.87,355.97 43.37,355.38 43.88,354.85 44.37,354.38 44.93,353.88 45.55,353.35 46.21,352.8 46.88,352.25 47.55,351.69 48.17,351.16 48.77,350.62 49.36,350.08 49.94,349.55 50.51,349.02 51.1,348.49 51.73,347.95 52.41,347.39 52.93,346.98 53.49,346.57 54.08,346.17 54.71,345.76 55.37,345.34 56.07,344.93 56.81,344.51 57.57,344.09 58.34,343.67 59.13,343.26 59.91,342.87 60.67,342.5 61.4,342.15 62.1,341.83 62.81,341.51 63.54,341.2 64.28,340.88 65.04,340.57 65.82,340.26 66.6,339.95 67.39,339.65 68.18,339.36 68.97,339.08 69.75,338.81 70.52,338.54 71.29,338.29 72.05,338.05 72.82,337.81 73.6,337.58 74.39,337.36 75.17,337.14 75.95,336.94 76.72,336.74 77.49,336.55 78.26,336.37 79.02,336.19 79.79,336.01 80.55,335.83 81.32,335.66 82.08,335.49 82.86,335.31 83.66,335.13 84.48,334.94 85.3,334.76 86.13,334.57 86.95,334.39 87.77,334.21 88.58,334.03 89.39,333.85 90.2,333.68 91,333.5 91.78,333.33 92.56,333.16 93.33,332.99 94.15,332.82 94.92,332.65 95.68,332.49 96.42,332.33 97.15,332.17 97.9,332.01 98.65,331.84 99.45,331.67 100.27,331.48 101.13,331.29 102.03,331.08 102.72,330.91 103.42,330.75 104.14,330.57 104.88,330.39 105.64,330.19 106.43,329.99 107.25,329.79 108.08,329.57 108.92,329.36 109.78,329.14 110.63,328.92 111.48,328.7 112.32,328.49 113.16,328.27 113.98,328.07 114.78,327.87 115.56,327.68 116.33,327.49 117.08,327.31 117.92,327.11 118.76,326.91 119.6,326.71 120.44,326.51 121.28,326.32 122.1,326.13 122.92,325.94 123.73,325.76 124.53,325.59 125.32,325.42 126.11,325.26 126.89,325.11 127.67,324.96 128.44,324.83 129.21,324.7 130.02,324.57 130.85,324.44 131.66,324.33 132.47,324.22 133.26,324.12 134.05,324.03 134.82,323.96 135.6,323.88 136.38,323.82 137.16,323.77 137.94,323.72 138.74,323.68 139.55,323.65 140.36,323.64 141.16,323.63 141.98,323.63 142.81,323.64 143.66,323.65 144.51,323.68 145.37,323.72 146.22,323.76 147.07,323.81 147.9,323.87 148.71,323.93 149.5,324 150.27,324.08 151.02,324.16 151.77,324.24 152.65,324.36 153.51,324.48 154.36,324.61 155.18,324.75 155.98,324.89 156.77,325.02 157.56,325.16 158.35,325.3 159.16,325.43 159.98,325.56 160.79,325.69 161.61,325.81 162.44,325.92 163.28,326.03 164.11,326.14 164.95,326.24 165.78,326.33 166.6,326.42 167.41,326.5 168.21,326.57 169.01,326.64 169.89,326.69 170.87,326.75 171.88,326.8 172.91,326.85 173.89,326.93 174.76,327.03 175.5,327.17 176.1,327.34 176.7,327.43 177.2,327.52 178.19,327.94 178.75,328.49 178.7,329.05 178.21,329.46 177.3,329.94 176.18,330.47 175.45,330.88 174.85,331.21 174.2,331.53 173.5,331.84 172.75,332.14 171.96,332.43 171.13,332.71 170.28,332.96 169.44,333.18 168.65,333.36 167.91,333.51 167.17,333.63 166.41,333.73 165.64,333.82 164.84,333.89 164.01,333.97 163.14,334.04 162.24,334.12 161.32,334.21 160.39,334.3 159.58,334.4 158.86,334.49 158.14,334.59 157.4,334.7 156.64,334.82 155.86,334.95 155.05,335.08 154.21,335.22 153.37,335.37 152.51,335.51 151.65,335.66 150.8,335.81 149.95,335.96 149.1,336.11 148.28,336.25 147.46,336.39 146.66,336.53 145.88,336.66 145.1,336.79 144.26,336.93 143.42,337.07 142.59,337.2 141.76,337.34 140.94,337.47 140.12,337.6 139.32,337.72 138.52,337.85 137.72,337.98 136.92,338.1 136.13,338.23 135.33,338.35 134.54,338.48 133.74,338.6 132.94,338.72 132.13,338.84 131.31,338.97 130.47,339.09 129.62,339.21 128.76,339.33 127.9,339.45 127.02,339.57 126.17,339.7 125.32,339.82 124.5,339.95 123.69,340.09 122.92,340.23 122.18,340.38 121.47,340.53 120.77,340.7 120.08,340.87 119.19,341.13 118.33,341.4 117.49,341.68 116.68,341.96 115.91,342.25 115.17,342.53 114.44,342.81 113.72,343.09 112.99,343.38 112.21,343.68 111.44,343.98 110.68,344.27 109.93,344.56 109.2,344.86 108.46,345.17 107.73,345.48 106.98,345.82 106.22,346.17 105.46,346.54 104.7,346.93 103.94,347.32 103.18,347.72 102.43,348.13 101.69,348.54 100.99,348.93 100.29,349.33 99.59,349.71 98.89,350.09 98.18,350.46 97.47,350.81 96.74,351.14 95.99,351.45 95.23,351.74 94.41,352 93.56,352.24 92.7,352.44 91.84,352.59 91,352.7 90.18,352.75 89.4,352.74 88.6,352.69 87.78,352.57 86.96,352.41 86.13,352.2 85.3,351.97 84.47,351.72 83.66,351.47 82.85,351.24 82.05,351.01 81.26,350.81 80.45,350.61 79.65,350.44 78.85,350.28 78.05,350.15 77.26,350.05 76.5,349.97 75.74,349.92 74.97,349.89 74.16,349.89 73.32,349.92 72.42,349.99 71.65,350.08 71.03,350.18 70.37,350.3 69.69,350.44 68.97,350.6 68.23,350.79 67.44,351.01 66.61,351.25 65.78,351.5 64.93,351.77 64.07,352.04 63.23,352.31 62.41,352.58 61.6,352.84 60.81,353.1 60.06,353.35 59.32,353.59 58.52,353.85 57.71,354.11 56.87,354.38 56.03,354.65 55.19,354.93 54.36,355.21 53.52,355.49 52.72,355.77 51.93,356.05 51.18,356.32 50.46,356.58 49.77,356.84 49.09,357.11 48.42,357.38 47.66,357.7 46.77,358.09 45.86,358.5 44.99,358.91 44.19,359.29 43.5,359.61 42.87,359.92 42.32,360.22 41.84,360.49 40.89,361.11Z" fill="none" stroke="#1f8a1f" stroke-width="1.1" stroke-linejoin="round"/>
<path d="M40.4,367 40.2,366.67 40.19,366.2 40.28,365.54 40.44,364.64 40.61,363.57 40.76,362.41 40.97,361.27 41.17,360.28 41.38,359.43 41.59,358.62 41.82,357.84 42.08,357.08 42.36,356.33 42.67,355.62 43.02,354.93 43.4,354.26 43.84,353.6 44.31,352.96 44.83,352.34 45.39,351.74 45.98,351.16 46.61,350.6 47.18,350.13 47.78,349.68 48.4,349.24 49.06,348.8 49.74,348.36 50.45,347.91 51.18,347.46 51.91,347 52.61,346.57 53.27,346.15 53.95,345.72 54.65,345.27 55.36,344.82 56.08,344.36 56.81,343.91 57.54,343.47 58.26,343.04 58.98,342.64 59.68,342.26 60.41,341.88 61.18,341.51 61.96,341.15 62.75,340.8 63.53,340.47 64.31,340.15 65.07,339.84 65.81,339.54 66.53,339.25 67.23,338.96 67.99,338.65 68.71,338.36 69.41,338.08 70.11,337.81 70.83,337.53 71.6,337.25 72.43,336.97 73.06,336.76 73.74,336.55 74.44,336.34 75.17,336.13 75.94,335.93 76.73,335.72 77.56,335.51 78.4,335.3 79.25,335.09 80.09,334.88 80.92,334.68 81.74,334.48 82.53,334.29 83.32,334.09 84.11,333.89 84.9,333.7 85.68,333.5 86.46,333.31 87.24,333.12 88.02,332.92 88.81,332.72 89.61,332.53 90.42,332.32 91.24,332.12 92.07,331.91 92.9,331.7 93.7,331.5 94.46,331.31 95.22,331.11 95.99,330.92 96.77,330.72 97.57,330.52 98.37,330.32 99.18,330.11 99.99,329.9 100.81,329.69 101.62,329.48 102.43,329.26 103.24,329.05 104.04,328.83 104.83,328.61 105.62,328.39 106.4,328.17 107.18,327.95 107.97,327.72 108.76,327.49 109.55,327.26 110.33,327.02 111.12,326.78 111.9,326.54 112.68,326.3 113.46,326.06 114.22,325.82 114.98,325.57 115.73,325.33 116.48,325.08 117.22,324.84 117.97,324.58 118.76,324.31 119.56,324.03 120.35,323.74 121.13,323.46 121.91,323.17 122.68,322.88 123.44,322.6 124.2,322.33 124.96,322.06 125.72,321.8 126.48,321.54 127.24,321.3 128.01,321.07 128.8,320.85 129.6,320.63 130.4,320.43 131.21,320.24 132.02,320.05 132.83,319.88 133.64,319.72 134.46,319.56 135.27,319.41 136.08,319.27 136.89,319.13 137.71,319 138.52,318.87 139.32,318.75 140.12,318.64 140.91,318.53 141.71,318.43 142.5,318.33 143.3,318.24 144.09,318.15 144.89,318.08 145.69,318.01 146.48,317.96 147.27,317.92 148.07,317.89 148.87,317.87 149.68,317.87 150.5,317.88 151.33,317.91 152.17,317.95 153.01,318 153.86,318.07 154.7,318.14 155.54,318.22 156.37,318.3 157.18,318.39 157.99,318.48 158.79,318.57 159.59,318.65 160.41,318.75 161.27,318.85 162.12,318.94 162.97,319.04 163.81,319.14 164.63,319.24 165.44,319.34 166.24,319.44 167.02,319.53 167.8,319.62 168.59,319.71 169.43,319.79 170.36,319.88 171.36,319.96 172.39,320.06 173.4,320.17 174.32,320.3 175.13,320.46 175.8,320.66 176.37,320.87 176.92,320.96 177.63,321.2 178.48,321.79 178.8,322.5 178.7,323.17 178.29,323.89 177.67,324.66 177.09,325.21 176.68,325.73 176.18,326.28 175.61,326.82 174.97,327.38 174.28,327.94 173.58,328.48 172.98,328.92 172.36,329.37 171.71,329.83 171.03,330.29 170.32,330.75 169.59,331.2 168.85,331.62 168.12,332 167.4,332.35 166.7,332.64 165.96,332.92 165.24,333.16 164.52,333.36 163.78,333.55 163.02,333.72 162.2,333.89 161.32,334.07 160.41,334.25 159.62,334.41 158.97,334.54 158.31,334.68 157.63,334.82 156.91,334.97 156.17,335.14 155.39,335.3 154.57,335.48 153.74,335.66 152.89,335.84 152.03,336.03 151.17,336.22 150.31,336.4 149.46,336.58 148.63,336.76 147.81,336.93 147.01,337.1 146.22,337.26 145.46,337.42 144.68,337.58 143.87,337.74 143.06,337.91 142.25,338.07 141.45,338.22 140.66,338.38 139.88,338.53 139.1,338.68 138.32,338.83 137.56,338.98 136.79,339.13 136.02,339.29 135.25,339.44 134.48,339.59 133.71,339.75 132.93,339.91 132.15,340.07 131.35,340.24 130.53,340.4 129.71,340.57 128.88,340.74 128.04,340.92 127.2,341.09 126.36,341.27 125.54,341.46 124.73,341.64 123.95,341.83 123.19,342.02 122.47,342.22 121.76,342.42 121.08,342.63 120.42,342.85 119.67,343.12 118.83,343.45 118.02,343.78 117.24,344.13 116.49,344.47 115.77,344.81 115.08,345.15 114.4,345.48 113.72,345.82 113.03,346.15 112.24,346.54 111.46,346.92 110.68,347.3 109.92,347.68 109.17,348.07 108.43,348.47 107.69,348.88 106.99,349.3 106.32,349.72 105.66,350.16 105,350.61 104.34,351.08 103.68,351.55 103.03,352.03 102.37,352.52 101.72,353 101.06,353.5 100.39,353.99 99.72,354.49 99.05,354.97 98.37,355.43 97.69,355.88 97,356.29 96.29,356.67 95.59,357.02 94.85,357.35 94.07,357.64 93.26,357.91 92.45,358.12 91.65,358.27 90.88,358.37 90.15,358.39 89.45,358.35 88.74,358.25 87.98,358.06 87.2,357.79 86.4,357.45 85.58,357.07 84.76,356.67 83.97,356.28 83.2,355.93 82.42,355.6 81.63,355.31 80.84,355.05 80.03,354.82 79.23,354.62 78.44,354.46 77.64,354.32 76.87,354.22 76.11,354.16 75.36,354.13 74.57,354.13 73.75,354.16 72.89,354.24 71.98,354.36 71.36,354.47 70.72,354.6 70.04,354.77 69.35,354.96 68.61,355.18 67.84,355.43 67.03,355.71 66.2,356.01 65.35,356.33 64.5,356.66 63.65,356.99 62.81,357.32 61.99,357.64 61.19,357.95 60.42,358.26 59.67,358.55 58.93,358.84 58.14,359.14 57.34,359.45 56.5,359.78 55.66,360.11 54.81,360.44 53.96,360.77 53.13,361.1 52.33,361.43 51.57,361.73 50.85,362.03 50.19,362.3 49.55,362.56 48.96,362.81 48.39,363.05 47.66,363.37 46.78,363.76 45.98,364.13 45.21,364.5 44.43,364.88 43.6,365.28 42.67,365.78 41.73,366.39 41.1,366.86 40.61,367.06Z" fill="none" stroke="#ff35ff" stroke-width="1.1" stroke-linejoin="round"/>
<path d="M40.4,375.8 40.24,375.59 40.18,375.22 40.2,374.73 40.26,374.07 40.36,373.23 40.43,372.24 40.51,371.09 40.64,369.86 40.77,368.72 40.9,367.71 41.01,366.84 41.11,366.06 41.22,365.25 41.33,364.43 41.45,363.6 41.58,362.76 41.72,361.92 41.87,361.09 42.03,360.3 42.2,359.52 42.38,358.76 42.58,358.03 42.83,357.19 43.11,356.37 43.4,355.57 43.71,354.8 44.04,354.08 44.39,353.4 44.77,352.75 45.16,352.14 45.66,351.47 46.19,350.82 46.76,350.22 47.35,349.66 47.97,349.14 48.59,348.67 49.3,348.19 50.01,347.74 50.75,347.31 51.51,346.89 52.29,346.46 52.99,346.07 53.7,345.68 54.43,345.27 55.17,344.86 55.92,344.44 56.66,344.02 57.38,343.61 58.08,343.22 58.78,342.83 59.48,342.43 60.17,342.02 60.87,341.59 61.56,341.14 62.24,340.68 62.91,340.2 63.59,339.69 64.27,339.17 64.97,338.65 65.66,338.14 66.34,337.66 67.01,337.23 67.69,336.83 68.36,336.47 69.03,336.15 69.71,335.85 70.42,335.56 71.17,335.27 71.98,334.97 72.73,334.71 73.39,334.49 74.08,334.26 74.8,334.03 75.55,333.8 76.33,333.55 77.15,333.31 77.99,333.05 78.84,332.8 79.69,332.55 80.53,332.3 81.36,332.06 82.18,331.81 82.96,331.58 83.73,331.36 84.48,331.14 85.22,330.92 85.97,330.7 86.71,330.48 87.46,330.27 88.21,330.04 88.97,329.82 89.73,329.59 90.51,329.36 91.3,329.11 92.1,328.86 92.9,328.61 93.67,328.36 94.41,328.12 95.15,327.87 95.9,327.62 96.66,327.36 97.43,327.09 98.21,326.82 98.99,326.55 99.78,326.27 100.57,325.98 101.36,325.7 102.15,325.41 102.94,325.13 103.71,324.84 104.49,324.56 105.25,324.27 106.01,323.99 106.77,323.7 107.53,323.41 108.29,323.12 109.05,322.83 109.81,322.53 110.58,322.24 111.34,321.94 112.09,321.64 112.85,321.34 113.6,321.05 114.34,320.75 115.07,320.46 115.8,320.17 116.52,319.89 117.24,319.6 117.96,319.32 118.76,319 119.55,318.68 120.35,318.36 121.13,318.05 121.91,317.74 122.68,317.44 123.44,317.13 124.2,316.83 124.96,316.53 125.72,316.24 126.47,315.94 127.24,315.65 128.01,315.35 128.78,315.06 129.55,314.76 130.33,314.47 131.11,314.17 131.89,313.88 132.67,313.59 133.45,313.31 134.23,313.03 135.02,312.75 135.8,312.49 136.58,312.24 137.36,311.99 138.14,311.76 138.92,311.54 139.71,311.33 140.5,311.12 141.3,310.93 142.09,310.75 142.89,310.57 143.69,310.41 144.49,310.26 145.29,310.13 146.09,310 146.89,309.9 147.68,309.81 148.48,309.74 149.28,309.69 150.1,309.66 150.92,309.64 151.75,309.65 152.59,309.67 153.43,309.71 154.27,309.76 155.12,309.83 155.95,309.9 156.77,309.97 157.59,310.05 158.39,310.14 159.19,310.22 159.98,310.3 160.84,310.39 161.7,310.49 162.55,310.59 163.39,310.69 164.22,310.78 165.04,310.88 165.84,310.98 166.63,311.08 167.4,311.17 168.19,311.26 168.99,311.34 169.88,311.43 170.86,311.52 171.9,311.61 172.94,311.71 173.93,311.84 174.82,312 175.56,312.19 176.15,312.42 176.73,312.5 177.2,312.61 178.01,313.03 178.5,313.64 178.61,314.36 178.38,315.08 178.14,316.01 178.01,316.62 177.86,317.34 177.72,318.17 177.55,319.05 177.33,319.95 177.08,320.83 176.81,321.66 176.53,322.4 176.21,323.14 175.84,323.88 175.43,324.6 174.98,325.32 174.5,326.01 174,326.69 173.47,327.33 172.95,327.9 172.4,328.45 171.83,328.99 171.22,329.51 170.58,330.02 169.91,330.5 169.22,330.96 168.51,331.38 167.8,331.76 167.12,332.09 166.43,332.38 165.74,332.65 165.02,332.9 164.27,333.14 163.48,333.37 162.63,333.61 161.75,333.85 160.84,334.09 159.93,334.34 159.27,334.53 158.59,334.72 157.9,334.91 157.19,335.12 156.45,335.33 155.68,335.55 154.88,335.78 154.07,336.01 153.23,336.25 152.38,336.49 151.54,336.72 150.69,336.96 149.85,337.2 149.01,337.43 148.2,337.65 147.39,337.87 146.61,338.08 145.84,338.29 145.09,338.49 144.27,338.7 143.46,338.91 142.66,339.11 141.85,339.31 141.06,339.51 140.27,339.7 139.49,339.89 138.71,340.08 137.94,340.27 137.17,340.46 136.4,340.66 135.62,340.86 134.85,341.06 134.08,341.27 133.31,341.49 132.53,341.71 131.76,341.94 130.98,342.17 130.19,342.4 129.39,342.65 128.58,342.9 127.77,343.16 126.95,343.42 126.15,343.68 125.35,343.95 124.57,344.23 123.81,344.5 123.09,344.77 122.39,345.05 121.71,345.32 121.05,345.61 120.41,345.9 119.69,346.24 118.89,346.65 118.11,347.06 117.36,347.48 116.63,347.9 115.94,348.32 115.28,348.73 114.63,349.15 113.98,349.56 113.34,349.98 112.66,350.42 111.96,350.87 111.28,351.33 110.61,351.78 109.95,352.23 109.3,352.69 108.65,353.15 108.01,353.63 107.37,354.13 106.73,354.64 106.09,355.17 105.46,355.71 104.83,356.27 104.21,356.84 103.59,357.42 102.97,358.02 102.37,358.62 101.78,359.24 101.21,359.85 100.64,360.49 100.05,361.15 99.46,361.82 98.87,362.48 98.28,363.11 97.68,363.68 97.09,364.19 96.49,364.64 95.88,365.02 95.16,365.4 94.39,365.74 93.55,366.01 92.69,366.22 91.82,366.36 90.98,366.41 90.17,366.39 89.42,366.3 88.71,366.14 88,365.91 87.28,365.61 86.54,365.24 85.79,364.81 85.03,364.37 84.29,363.92 83.56,363.49 82.84,363.09 82.11,362.71 81.37,362.36 80.63,362.03 79.89,361.74 79.14,361.48 78.39,361.25 77.65,361.05 76.88,360.89 76.12,360.77 75.36,360.68 74.57,360.64 73.74,360.65 72.87,360.7 71.98,360.82 71.38,360.93 70.76,361.07 70.12,361.25 69.45,361.46 68.74,361.72 67.99,362.01 67.21,362.34 66.41,362.69 65.58,363.07 64.75,363.45 63.92,363.85 63.1,364.23 62.3,364.61 61.51,364.98 60.75,365.32 60.02,365.65 59.3,365.97 58.53,366.3 57.75,366.63 56.93,366.97 56.1,367.31 55.27,367.65 54.42,367.99 53.6,368.33 52.79,368.65 52,368.97 51.26,369.27 50.55,369.56 49.88,369.83 49.24,370.08 48.63,370.33 48.05,370.56 47.19,370.91 46.41,371.25 45.69,371.59 45.02,371.94 44.37,372.33 43.71,372.77 42.92,373.34 42.05,374.06 41.31,374.9 40.92,375.48 40.57,375.8Z" fill="none" stroke="#2a2ad0" stroke-width="1.1" stroke-linejoin="round"/>
<path d="M40.4,385.2 40.25,385.02 40.18,384.69 40.19,384.25 40.23,383.65 40.29,382.91 40.34,382.01 40.38,380.92 40.46,379.67 40.57,378.4 40.68,377.2 40.78,376.14 40.86,375.22 40.93,374.42 41,373.65 41.06,372.88 41.12,372.09 41.19,371.28 41.26,370.45 41.34,369.62 41.42,368.79 41.51,367.96 41.6,367.15 41.7,366.36 41.8,365.58 41.91,364.81 42.02,364.05 42.16,363.18 42.31,362.3 42.48,361.42 42.65,360.55 42.84,359.71 43.03,358.89 43.24,358.11 43.47,357.35 43.72,356.62 43.99,355.91 44.3,355.17 44.66,354.41 45.05,353.66 45.47,352.95 45.91,352.27 46.37,351.63 46.85,351.02 47.36,350.45 47.92,349.88 48.53,349.31 49.18,348.77 49.85,348.23 50.54,347.71 51.24,347.19 51.93,346.67 52.59,346.16 53.23,345.66 53.86,345.14 54.5,344.62 55.13,344.09 55.77,343.57 56.41,343.06 57.06,342.55 57.7,342.07 58.35,341.59 58.99,341.13 59.63,340.66 60.28,340.19 60.93,339.7 61.57,339.19 62.21,338.67 62.84,338.13 63.48,337.56 64.12,336.98 64.78,336.39 65.43,335.81 66.08,335.28 66.72,334.78 67.36,334.34 68.03,333.92 68.69,333.55 69.36,333.2 70.05,332.88 70.79,332.56 71.58,332.25 72.42,331.92 73.06,331.69 73.74,331.44 74.44,331.2 75.17,330.95 75.93,330.7 76.74,330.43 77.57,330.17 78.41,329.9 79.26,329.63 80.11,329.37 80.95,329.11 81.77,328.85 82.58,328.6 83.35,328.37 84.11,328.14 84.85,327.91 85.6,327.68 86.34,327.46 87.09,327.24 87.84,327.01 88.59,326.78 89.35,326.55 90.12,326.31 90.9,326.06 91.7,325.81 92.49,325.55 93.3,325.28 94.03,325.02 94.78,324.77 95.53,324.5 96.28,324.23 97.05,323.95 97.82,323.67 98.6,323.37 99.39,323.08 100.18,322.78 100.97,322.47 101.76,322.17 102.55,321.86 103.33,321.56 104.1,321.25 104.87,320.95 105.63,320.64 106.39,320.34 107.15,320.03 107.91,319.73 108.68,319.42 109.44,319.11 110.2,318.79 110.96,318.48 111.72,318.16 112.48,317.84 113.23,317.52 113.98,317.2 114.72,316.87 115.45,316.55 116.18,316.22 116.9,315.89 117.62,315.55 118.35,315.2 119.1,314.84 119.84,314.47 120.57,314.1 121.3,313.72 122.02,313.35 122.73,312.97 123.44,312.59 124.14,312.21 124.85,311.83 125.55,311.45 126.25,311.07 126.95,310.68 127.66,310.29 128.37,309.9 129.09,309.5 129.81,309.09 130.54,308.68 131.27,308.26 132,307.84 132.73,307.42 133.46,307.01 134.19,306.6 134.92,306.2 135.65,305.82 136.37,305.44 137.09,305.09 137.82,304.75 138.54,304.43 139.3,304.12 140.08,303.81 140.88,303.51 141.68,303.23 142.48,302.97 143.28,302.72 144.08,302.49 144.88,302.27 145.68,302.07 146.49,301.89 147.29,301.72 148.09,301.57 148.9,301.43 149.71,301.31 150.52,301.21 151.35,301.12 152.18,301.05 153.02,300.99 153.86,300.95 154.7,300.93 155.54,300.91 156.37,300.91 157.2,300.92 158.01,300.95 158.82,300.98 159.61,301.03 160.42,301.09 161.24,301.17 162.05,301.26 162.86,301.36 163.65,301.48 164.44,301.6 165.22,301.72 165.99,301.85 166.74,301.97 167.49,302.1 168.24,302.22 169,302.34 169.85,302.46 170.76,302.59 171.73,302.72 172.7,302.86 173.64,303.01 174.5,303.18 175.24,303.38 175.88,303.6 176.42,303.8 176.94,303.92 177.61,304.17 178.4,304.75 178.8,305.5 178.92,306.19 178.87,306.95 178.78,307.87 178.68,308.82 178.66,309.67 178.62,310.43 178.57,311.23 178.5,312.07 178.42,312.94 178.33,313.84 178.22,314.73 178.1,315.6 177.98,316.43 177.84,317.24 177.68,318.06 177.5,318.87 177.3,319.67 177.08,320.46 176.83,321.24 176.55,322.01 176.24,322.74 175.91,323.46 175.54,324.17 175.13,324.87 174.7,325.55 174.23,326.22 173.74,326.88 173.23,327.51 172.7,328.13 172.16,328.72 171.59,329.29 171,329.85 170.37,330.4 169.73,330.93 169.06,331.42 168.38,331.87 167.7,332.27 167.02,332.62 166.33,332.92 165.63,333.17 164.93,333.39 164.22,333.57 163.46,333.75 162.65,333.92 161.79,334.1 160.88,334.3 159.95,334.52 159.32,334.68 158.69,334.86 158.03,335.05 157.35,335.27 156.65,335.5 155.9,335.75 155.12,336.03 154.32,336.31 153.5,336.61 152.67,336.92 151.83,337.23 150.99,337.55 150.16,337.86 149.33,338.18 148.52,338.49 147.72,338.79 146.95,339.09 146.19,339.38 145.45,339.67 144.7,339.95 143.91,340.25 143.12,340.56 142.34,340.86 141.56,341.16 140.79,341.45 140.03,341.75 139.27,342.05 138.52,342.35 137.77,342.64 137.02,342.94 136.27,343.25 135.53,343.55 134.78,343.86 134.03,344.17 133.28,344.48 132.53,344.8 131.78,345.12 131.03,345.45 130.26,345.78 129.49,346.12 128.71,346.47 127.92,346.82 127.13,347.17 126.35,347.53 125.57,347.88 124.81,348.23 124.07,348.58 123.35,348.91 122.66,349.24 121.99,349.56 121.34,349.86 120.7,350.17 120.07,350.47 119.23,350.87 118.4,351.27 117.6,351.67 116.83,352.05 116.1,352.42 115.4,352.79 114.72,353.17 114.05,353.55 113.38,353.96 112.7,354.39 112.03,354.83 111.37,355.3 110.73,355.77 110.1,356.25 109.48,356.75 108.86,357.28 108.26,357.82 107.65,358.39 107.09,358.94 106.56,359.49 106.04,360.05 105.53,360.63 105.01,361.24 104.5,361.85 103.99,362.49 103.48,363.13 102.98,363.78 102.48,364.43 101.99,365.08 101.52,365.73 101.03,366.39 100.54,367.08 100.05,367.79 99.54,368.51 99.03,369.21 98.52,369.89 98.01,370.52 97.5,371.11 96.98,371.64 96.45,372.12 95.9,372.57 95.23,373.04 94.48,373.48 93.67,373.89 92.83,374.22 92,374.48 91.19,374.65 90.44,374.72 89.74,374.71 89.09,374.62 88.46,374.46 87.81,374.22 87.12,373.88 86.41,373.45 85.68,372.96 84.95,372.44 84.24,371.92 83.55,371.43 82.85,370.97 82.13,370.51 81.38,370.08 80.63,369.68 79.88,369.31 79.12,368.99 78.37,368.7 77.62,368.45 76.86,368.23 76.1,368.06 75.33,367.94 74.54,367.86 73.72,367.83 72.86,367.86 71.98,367.95 71.38,368.05 70.77,368.19 70.13,368.36 69.46,368.58 68.75,368.84 68,369.14 67.22,369.48 66.41,369.86 65.59,370.26 64.75,370.67 63.92,371.09 63.1,371.5 62.29,371.91 61.51,372.3 60.75,372.67 60.01,373.03 59.3,373.37 58.53,373.72 57.74,374.08 56.93,374.44 56.1,374.82 55.26,375.19 54.42,375.56 53.6,375.93 52.79,376.29 52.01,376.64 51.27,376.98 50.56,377.3 49.9,377.61 49.27,377.9 48.66,378.19 48.08,378.48 47.2,378.92 46.4,379.35 45.68,379.77 45.01,380.22 44.37,380.7 43.72,381.25 43.04,381.91 42.29,382.7 41.59,383.57 41.11,384.37 40.84,384.89 40.54,385.19Z" fill="none" stroke="#ff2a2a" stroke-width="1.1" stroke-linejoin="round"/>
<path d="M40.4,391.9 40.23,391.72 40.15,391.41 40.13,391 40.14,390.46 40.18,389.78 40.22,388.98 40.22,388.02 40.26,386.88 40.34,385.64 40.43,384.4 40.53,383.21 40.62,382.1 40.7,381.09 40.76,380.2 40.81,379.41 40.86,378.65 40.9,377.89 40.94,377.13 40.98,376.35 41.02,375.56 41.07,374.76 41.12,373.96 41.17,373.16 41.22,372.36 41.28,371.56 41.35,370.78 41.42,370 41.49,369.23 41.57,368.46 41.66,367.65 41.76,366.8 41.86,365.93 41.98,365.05 42.1,364.16 42.23,363.28 42.36,362.41 42.51,361.56 42.66,360.73 42.83,359.94 43,359.19 43.18,358.45 43.38,357.74 43.6,357.05 43.88,356.22 44.19,355.4 44.52,354.61 44.87,353.86 45.23,353.16 45.6,352.48 45.99,351.84 46.41,351.22 46.87,350.58 47.37,349.95 47.88,349.33 48.42,348.73 48.98,348.13 49.55,347.51 50.15,346.88 50.71,346.28 51.23,345.71 51.77,345.11 52.31,344.5 52.88,343.87 53.45,343.23 54.03,342.6 54.62,341.99 55.22,341.4 55.81,340.85 56.42,340.32 57.05,339.81 57.7,339.31 58.35,338.83 59.01,338.36 59.66,337.89 60.31,337.43 60.95,336.96 61.59,336.47 62.22,335.96 62.87,335.41 63.52,334.84 64.18,334.26 64.82,333.7 65.47,333.15 66.1,332.64 66.73,332.18 67.36,331.76 68.03,331.37 68.69,331.02 69.35,330.7 70.04,330.41 70.77,330.11 71.55,329.81 72.39,329.5 73.04,329.27 73.72,329.03 74.42,328.78 75.16,328.52 75.93,328.25 76.73,327.97 77.57,327.69 78.41,327.4 79.26,327.11 80.11,326.83 80.95,326.55 81.78,326.28 82.58,326.02 83.36,325.77 84.12,325.53 84.86,325.29 85.6,325.06 86.35,324.83 87.09,324.6 87.84,324.37 88.59,324.14 89.35,323.9 90.13,323.65 90.91,323.39 91.71,323.12 92.51,322.85 93.31,322.56 94.03,322.3 94.75,322.03 95.47,321.75 96.2,321.47 96.94,321.18 97.69,320.87 98.45,320.56 99.21,320.25 99.98,319.93 100.74,319.6 101.51,319.27 102.27,318.94 103.03,318.61 103.78,318.28 104.53,317.95 105.27,317.62 106,317.29 106.74,316.96 107.48,316.62 108.22,316.28 108.97,315.94 109.71,315.6 110.45,315.25 111.19,314.91 111.92,314.56 112.65,314.2 113.38,313.85 114.1,313.49 114.82,313.13 115.53,312.77 116.23,312.41 116.93,312.04 117.62,311.67 118.33,311.28 119.06,310.88 119.77,310.47 120.48,310.05 121.19,309.64 121.88,309.22 122.57,308.8 123.26,308.38 123.94,307.96 124.62,307.53 125.31,307.11 125.99,306.69 126.67,306.27 127.35,305.85 128.04,305.43 128.73,305 129.43,304.57 130.13,304.14 130.85,303.7 131.57,303.26 132.29,302.82 133.01,302.38 133.73,301.94 134.45,301.51 135.16,301.1 135.85,300.7 136.54,300.31 137.21,299.94 137.87,299.58 138.54,299.23 139.26,298.87 140.06,298.48 140.86,298.1 141.67,297.73 142.47,297.38 143.25,297.05 144,296.76 144.73,296.48 145.45,296.24 146.15,296.01 146.85,295.81 147.63,295.61 148.48,295.42 149.31,295.27 150.13,295.14 150.94,295.04 151.76,294.95 152.59,294.89 153.4,294.85 154.18,294.83 154.96,294.82 155.76,294.82 156.58,294.84 157.41,294.87 158.26,294.92 159.12,294.97 160,295.03 160.78,295.1 161.58,295.17 162.39,295.25 163.22,295.34 164.06,295.44 164.91,295.55 165.76,295.65 166.6,295.76 167.43,295.87 168.24,295.97 169.04,296.07 169.91,296.17 170.85,296.28 171.82,296.4 172.79,296.53 173.71,296.67 174.54,296.82 175.27,297.01 175.88,297.21 176.48,297.3 176.99,297.41 178.13,297.92 178.7,298.6 178.82,299.35 178.74,300.31 178.69,301.39 178.68,302.08 178.71,302.82 178.72,303.63 178.71,304.47 178.7,305.34 178.67,306.2 178.63,307.03 178.59,307.83 178.53,308.63 178.46,309.41 178.38,310.2 178.29,310.98 178.19,311.77 178.07,312.57 177.95,313.39 177.82,314.2 177.67,315.03 177.5,315.85 177.32,316.66 177.12,317.47 176.9,318.28 176.67,319.05 176.41,319.82 176.13,320.59 175.83,321.36 175.51,322.11 175.17,322.86 174.81,323.6 174.43,324.32 174.03,325.04 173.61,325.76 173.16,326.46 172.68,327.14 172.19,327.79 171.69,328.41 171.16,329 170.61,329.56 170.03,330.08 169.44,330.58 168.82,331.06 168.17,331.51 167.48,331.93 166.77,332.34 166.07,332.69 165.31,333.05 164.49,333.39 163.64,333.73 162.79,334.04 161.97,334.34 161.21,334.62 160.52,334.87 159.9,335.1 159.08,335.41 158.41,335.67 157.55,336.01 157.09,336.19 156.58,336.39 156.02,336.61 155.4,336.85 154.72,337.12 153.98,337.41 153.18,337.72 152.33,338.05 151.44,338.4 150.54,338.76 149.63,339.12 148.73,339.48 147.85,339.85 146.99,340.21 146.17,340.56 145.39,340.9 144.66,341.23 143.96,341.55 143.25,341.88 142.55,342.21 141.84,342.55 141.13,342.9 140.41,343.25 139.69,343.61 138.97,343.98 138.25,344.34 137.53,344.71 136.81,345.08 136.09,345.45 135.37,345.82 134.66,346.19 133.95,346.56 133.24,346.92 132.53,347.29 131.81,347.66 131.08,348.04 130.34,348.43 129.59,348.82 128.83,349.22 128.07,349.62 127.3,350.03 126.54,350.43 125.78,350.83 125.04,351.22 124.31,351.6 123.59,351.97 122.91,352.32 122.24,352.66 121.59,352.98 120.96,353.28 120.34,353.58 119.61,353.91 118.78,354.28 117.97,354.62 117.2,354.96 116.46,355.28 115.75,355.6 115.08,355.92 114.42,356.27 113.77,356.64 113.12,357.05 112.5,357.49 111.89,357.96 111.29,358.46 110.7,359 110.11,359.56 109.54,360.14 108.97,360.75 108.41,361.37 107.86,362 107.32,362.64 106.82,363.23 106.32,363.84 105.83,364.45 105.35,365.07 104.86,365.71 104.37,366.35 103.89,367.01 103.4,367.67 102.92,368.33 102.45,369 101.98,369.67 101.52,370.33 101.06,371.02 100.59,371.72 100.12,372.44 99.64,373.17 99.16,373.9 98.68,374.61 98.19,375.28 97.7,375.92 97.21,376.51 96.7,377.06 96.19,377.57 95.61,378.09 94.93,378.63 94.18,379.16 93.38,379.64 92.57,380.06 91.77,380.39 91.01,380.62 90.31,380.76 89.67,380.8 89.07,380.76 88.46,380.65 87.84,380.45 87.17,380.14 86.45,379.74 85.72,379.26 84.98,378.74 84.25,378.22 83.55,377.73 82.86,377.26 82.13,376.8 81.39,376.37 80.65,375.95 79.89,375.57 79.14,375.21 78.39,374.89 77.64,374.6 76.86,374.33 76.09,374.1 75.31,373.91 74.5,373.77 73.68,373.68 72.83,373.66 71.95,373.7 71.37,373.77 70.76,373.88 70.13,374.03 69.46,374.22 68.76,374.47 68.01,374.77 67.23,375.1 66.42,375.47 65.59,375.87 64.75,376.29 63.92,376.72 63.09,377.15 62.28,377.57 61.5,377.97 60.73,378.36 59.99,378.73 59.28,379.08 58.54,379.44 57.77,379.8 56.99,380.17 56.19,380.54 55.38,380.92 54.57,381.3 53.77,381.69 52.98,382.07 52.22,382.45 51.49,382.82 50.8,383.18 50.15,383.53 49.53,383.88 48.94,384.22 48.38,384.57 47.72,385 46.97,385.52 46.29,386.02 45.66,386.51 45.07,387.01 44.5,387.53 43.92,388.08 43.25,388.75 42.41,389.58 41.61,390.55 41.1,391.31 40.78,391.77Z" fill="none" stroke="#1a1a1a" stroke-width="1.1" stroke-linejoin="round"/>
<line x1="92.4" y1="350.2" x2="89.2" y2="377.5" stroke="#111" stroke-width="0.9"/>
<path d="M87.4,376.8 L90.8,377.2 L88.7,381.6 Z" fill="#111"/>
<rect x="228.3" y="289" width="147.3" height="109.2" fill="none" stroke="#7c7c7c" stroke-width="1.15"/>
<line x1="226.3" y1="398.2" x2="228.3" y2="398.2" stroke="#8a8a8a" stroke-width="1.0"/>
<line x1="226.3" y1="371.1" x2="228.3" y2="371.1" stroke="#8a8a8a" stroke-width="1.0"/>
<line x1="226.3" y1="344" x2="228.3" y2="344" stroke="#8a8a8a" stroke-width="1.0"/>
<line x1="226.3" y1="316.9" x2="228.3" y2="316.9" stroke="#8a8a8a" stroke-width="1.0"/>
<line x1="226.3" y1="289.8" x2="228.3" y2="289.8" stroke="#8a8a8a" stroke-width="1.0"/>
<line x1="227.1" y1="384.65" x2="228.3" y2="384.65" stroke="#8a8a8a" stroke-width="1.0"/>
<line x1="227.1" y1="357.55" x2="228.3" y2="357.55" stroke="#8a8a8a" stroke-width="1.0"/>
<line x1="227.1" y1="330.45" x2="228.3" y2="330.45" stroke="#8a8a8a" stroke-width="1.0"/>
<line x1="227.1" y1="303.35" x2="228.3" y2="303.35" stroke="#8a8a8a" stroke-width="1.0"/>
<line x1="231" y1="398.2" x2="231" y2="400.2" stroke="#8a8a8a" stroke-width="1.0"/>
<line x1="279.2" y1="398.2" x2="279.2" y2="400.2" stroke="#8a8a8a" stroke-width="1.0"/>
<line x1="327.4" y1="398.2" x2="327.4" y2="400.2" stroke="#8a8a8a" stroke-width="1.0"/>
<line x1="375.6" y1="398.2" x2="375.6" y2="400.2" stroke="#8a8a8a" stroke-width="1.0"/>
<line x1="255.1" y1="398.2" x2="255.1" y2="399.4" stroke="#8a8a8a" stroke-width="1.0"/>
<line x1="303.3" y1="398.2" x2="303.3" y2="399.4" stroke="#8a8a8a" stroke-width="1.0"/>
<line x1="351.5" y1="398.2" x2="351.5" y2="399.4" stroke="#8a8a8a" stroke-width="1.0"/>
<text x="224.5" y="401.1" font-family="Liberation Sans" font-size="8.5" text-anchor="end" fill="#1a1a1a" stroke="#1a1a1a" stroke-width="0.12" >0</text>
<text x="224.5" y="374" font-family="Liberation Sans" font-size="8.5" text-anchor="end" fill="#1a1a1a" stroke="#1a1a1a" stroke-width="0.12" >-500</text>
<text x="224.5" y="346.9" font-family="Liberation Sans" font-size="8.5" text-anchor="end" fill="#1a1a1a" stroke="#1a1a1a" stroke-width="0.12" >-1000</text>
<text x="224.5" y="319.8" font-family="Liberation Sans" font-size="8.5" text-anchor="end" fill="#1a1a1a" stroke="#1a1a1a" stroke-width="0.12" >-1500</text>
<text x="224.5" y="292.7" font-family="Liberation Sans" font-size="8.5" text-anchor="end" fill="#1a1a1a" stroke="#1a1a1a" stroke-width="0.12" >-2000</text>
<text x="231" y="408.4" font-family="Liberation Sans" font-size="8.5" text-anchor="middle" fill="#1a1a1a" stroke="#1a1a1a" stroke-width="0.12" >0.0</text>
<text x="279.2" y="408.4" font-family="Liberation Sans" font-size="8.5" text-anchor="middle" fill="#1a1a1a" stroke="#1a1a1a" stroke-width="0.12" >0.2</text>
<text x="327.4" y="408.4" font-family="Liberation Sans" font-size="8.5" text-anchor="middle" fill="#1a1a1a" stroke="#1a1a1a" stroke-width="0.12" >0.4</text>
<text x="375.6" y="408.4" font-family="Liberation Sans" font-size="8.5" text-anchor="middle" fill="#1a1a1a" stroke="#1a1a1a" stroke-width="0.12" >0.6</text>
<text x="302.9" y="422.4" font-family="Liberation Sans" font-size="9.2" text-anchor="middle" fill="#1a1a1a" stroke="#1a1a1a" stroke-width="0.12" ><tspan font-style="italic">v</tspan> / V s<tspan dy="-5" font-size="7.5">-1</tspan></text>
<text transform="translate(200.3,345.6) rotate(-90)" font-family="Liberation Sans" font-size="10.0" text-anchor="middle" fill="#1a1a1a" stroke="#1a1a1a" stroke-width="0.1"><tspan font-style="italic">j</tspan><tspan dy="2.4" font-size="7.5">p</tspan><tspan dy="-2.4"> / μA cm</tspan><tspan dy="-4" font-size="7.5">-2</tspan></text>
<line x1="231.3" y1="390.7" x2="327" y2="300.2" stroke="#ff4545" stroke-width="1.3"/>
<rect x="230.7" y="388.3" width="3" height="3" fill="#111"/>
<rect x="232.1" y="385.5" width="3" height="3" fill="#111"/>
<rect x="235.6" y="381.1" width="3" height="3" fill="#111"/>
<rect x="241.6" y="375.4" width="3" height="3" fill="#111"/>
<rect x="247.9" y="369.1" width="3" height="3" fill="#111"/>
<rect x="253.7" y="364.8" width="3" height="3" fill="#111"/>
<rect x="277.5" y="343.8" width="3" height="3" fill="#111"/>
<rect x="301.6" y="320.3" width="3" height="3" fill="#111"/>
<rect x="325.5" y="298.7" width="3" height="3" fill="#111"/>
<rect x="316.3" y="333.4" width="56.1" height="46.1" fill="#fff" stroke="#a0a0a0" stroke-width="0.8"/>
<line x1="315.3" y1="379.5" x2="316.3" y2="379.5" stroke="#8a8a8a" stroke-width="0.6"/>
<line x1="315.3" y1="367.98" x2="316.3" y2="367.98" stroke="#8a8a8a" stroke-width="0.6"/>
<line x1="315.3" y1="356.45" x2="316.3" y2="356.45" stroke="#8a8a8a" stroke-width="0.6"/>
<line x1="315.3" y1="344.93" x2="316.3" y2="344.93" stroke="#8a8a8a" stroke-width="0.6"/>
<line x1="315.3" y1="333.4" x2="316.3" y2="333.4" stroke="#8a8a8a" stroke-width="0.6"/>
<line x1="316.9" y1="379.5" x2="316.9" y2="380.5" stroke="#8a8a8a" stroke-width="0.6"/>
<line x1="332.2" y1="379.5" x2="332.2" y2="380.5" stroke="#8a8a8a" stroke-width="0.6"/>
<line x1="347.5" y1="379.5" x2="347.5" y2="380.5" stroke="#8a8a8a" stroke-width="0.6"/>
<line x1="362.8" y1="379.5" x2="362.8" y2="380.5" stroke="#8a8a8a" stroke-width="0.6"/>
<text x="314.7" y="381.7" font-family="Liberation Sans" font-size="6.2" text-anchor="end" fill="#333" stroke="#333" stroke-width="0" >0</text>
<text x="314.7" y="370.18" font-family="Liberation Sans" font-size="6.2" text-anchor="end" fill="#333" stroke="#333" stroke-width="0" >-500</text>
<text x="314.7" y="358.65" font-family="Liberation Sans" font-size="6.2" text-anchor="end" fill="#333" stroke="#333" stroke-width="0" >-1000</text>
<text x="314.7" y="347.12" font-family="Liberation Sans" font-size="6.2" text-anchor="end" fill="#333" stroke="#333" stroke-width="0" >-1500</text>
<text x="314.7" y="335.6" font-family="Liberation Sans" font-size="6.2" text-anchor="end" fill="#333" stroke="#333" stroke-width="0" >-2000</text>
<text x="316.9" y="386" font-family="Liberation Sans" font-size="6.2" text-anchor="middle" fill="#333" stroke="#333" stroke-width="0" >0.0</text>
<text x="332.2" y="386" font-family="Liberation Sans" font-size="6.2" text-anchor="middle" fill="#333" stroke="#333" stroke-width="0" >0.2</text>
<text x="347.5" y="386" font-family="Liberation Sans" font-size="6.2" text-anchor="middle" fill="#333" stroke="#333" stroke-width="0" >0.4</text>
<text x="362.8" y="386" font-family="Liberation Sans" font-size="6.2" text-anchor="middle" fill="#333" stroke="#333" stroke-width="0" >0.6</text>
<text transform="translate(297.3,355.5) rotate(-90)" font-family="Liberation Sans" font-size="6.6" text-anchor="middle" fill="#333" stroke="#333" stroke-width="0"><tspan font-style="italic">j</tspan><tspan dy="1.3" font-size="4.9">p</tspan><tspan dy="-1.3"> / μA cm</tspan><tspan dy="-2.7" font-size="4.9">-2</tspan></text>
<text x="346.8" y="395.8" font-family="Liberation Sans" font-size="6.4" text-anchor="middle" fill="#333" stroke="#333" stroke-width="0.05" ><tspan font-style="italic">v</tspan><tspan dy="-2.7" font-size="4.9">1/2</tspan><tspan dy="2.7"> / (V s</tspan><tspan dy="-2.7" font-size="4.9">-1</tspan><tspan dy="2.7">)</tspan><tspan dy="-2.7" font-size="4.9">1/2</tspan></text>
<line x1="320.5" y1="376.7" x2="365.2" y2="354.4" stroke="#ff9090" stroke-width="1.1"/>
<rect x="320.5" y="375" width="2.4" height="2.4" fill="#111"/>
<rect x="323.6" y="373.6" width="2.4" height="2.4" fill="#111"/>
<rect x="327.6" y="372" width="2.4" height="2.4" fill="#111"/>
<rect x="332.7" y="369.6" width="2.4" height="2.4" fill="#111"/>
<rect x="337" y="367.3" width="2.4" height="2.4" fill="#111"/>
<rect x="340.5" y="365.4" width="2.4" height="2.4" fill="#111"/>
<rect x="350.6" y="356" width="2.4" height="2.4" fill="#111"/>
<rect x="358.8" y="346.1" width="2.4" height="2.4" fill="#111"/>
<rect x="365.6" y="336.7" width="2.4" height="2.4" fill="#111"/></svg></body></html>
